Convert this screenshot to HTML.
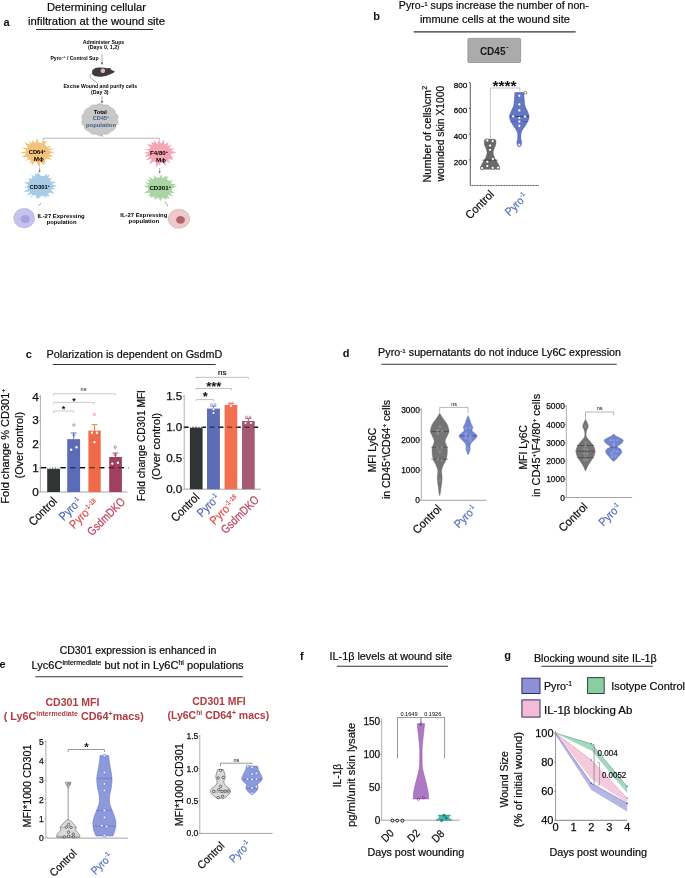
<!DOCTYPE html>
<html><head><meta charset="utf-8"><title>Figure</title>
<style>html,body{margin:0;padding:0;background:#fff;overflow:hidden;}svg{display:block;}
text{font-family:'Liberation Sans', Arial, Helvetica, sans-serif;}</style></head>
<body><svg width="685" height="878" viewBox="0 0 685 878">
<rect width="685" height="878" fill="#fff"/>
<text x="3.40" y="26.30" font-size="11" fill="#111" font-weight="bold">a</text>
<text x="96.50" y="10.50" font-size="10.5" text-anchor="middle" textLength="99.00" lengthAdjust="spacingAndGlyphs" stroke="#222" stroke-width="0.2">Determining cellular</text>
<text x="96.50" y="24.50" font-size="10.5" text-anchor="middle" textLength="137.00" lengthAdjust="spacingAndGlyphs" stroke="#222" stroke-width="0.2">infiltration at the wound site</text>
<line x1="36.00" y1="29.50" x2="153.00" y2="29.50" stroke="#333" stroke-width="1.2" />
<text x="103.50" y="44.00" font-size="4.6" text-anchor="middle" font-weight="bold" textLength="41.50" lengthAdjust="spacingAndGlyphs">Administer  Sups</text>
<text x="103.50" y="49.20" font-size="4.6" text-anchor="middle" font-weight="bold" textLength="31.00" lengthAdjust="spacingAndGlyphs">(Days 0, 1,2)</text>
<text x="74.50" y="59.60" font-size="4.6" text-anchor="middle" font-weight="bold" textLength="48.00" lengthAdjust="spacingAndGlyphs">Pyro⁻¹ / Control Sup</text>
<line x1="102.00" y1="54.00" x2="102.00" y2="64.00" stroke="#555" stroke-width="0.5" />
<path d="M100.8,62.5 L102,65 L103.2,62.5 Z" fill="#555" stroke="none" stroke-width="1" />
<path d="M92,72.2 C92,68.6 96,67.4 101,67.5 C105,67.6 108,68.2 110.2,69.2 L115.2,71.7 C113,72.9 111,73.9 108.6,74.9 C105,76.5 99,77.1 95.6,76.3 C93.2,75.6 92,74.2 92,72.2 Z" fill="#3c3c3c" stroke="none" stroke-width="1" />
<ellipse cx="109.3" cy="69.3" rx="1.6" ry="1.2" fill="#3c3c3c"/>
<ellipse cx="102.8" cy="70.8" rx="2.3" ry="2.4" fill="#e4b4ba"/>
<path d="M92.6,73 C89.6,74.2 89.2,77 91.2,78.6 C93.2,80.2 96.2,81.6 97.8,84.1" fill="none" stroke="#555" stroke-width="0.5" />
<text x="100.20" y="88.20" font-size="4.6" text-anchor="middle" font-weight="bold" textLength="73.60" lengthAdjust="spacingAndGlyphs">Excise Wound and purify cells</text>
<text x="99.80" y="94.00" font-size="4.6" text-anchor="middle" font-weight="bold" textLength="17.60" lengthAdjust="spacingAndGlyphs">(Day 3)</text>
<line x1="102.00" y1="96.00" x2="102.00" y2="102.50" stroke="#555" stroke-width="0.5" />
<path d="M100.9,101 L102,103.5 L103.1,101 Z" fill="#555" stroke="none" stroke-width="1" />
<path d="M117.10,119.60 L117.51,120.39 L117.81,121.22 L117.95,122.06 L117.90,122.89 L117.64,123.69 L117.18,124.43 L116.57,125.11 L115.84,125.71 L115.39,126.39 L115.32,127.26 L115.11,128.10 L114.74,128.88 L114.20,129.57 L113.50,130.14 L112.66,130.58 L111.74,130.91 L110.76,131.14 L110.23,131.83 L109.68,132.56 L109.02,133.19 L108.25,133.70 L107.37,134.05 L106.43,134.23 L105.43,134.25 L104.43,134.15 L103.50,134.18 L102.68,134.68 L101.79,135.08 L100.86,135.35 L99.90,135.44 L98.94,135.35 L98.01,135.08 L97.12,134.68 L96.30,134.18 L95.37,134.15 L94.37,134.25 L93.37,134.23 L92.43,134.05 L91.55,133.70 L90.78,133.19 L90.12,132.56 L89.57,131.83 L89.04,131.14 L88.06,130.91 L87.14,130.58 L86.30,130.14 L85.60,129.57 L85.06,128.88 L84.69,128.10 L84.48,127.26 L84.41,126.39 L83.96,125.71 L83.23,125.11 L82.62,124.43 L82.16,123.69 L81.90,122.89 L81.85,122.06 L81.99,121.22 L82.29,120.39 L82.70,119.60 L82.29,118.81 L81.99,117.98 L81.85,117.14 L81.90,116.31 L82.16,115.51 L82.62,114.77 L83.23,114.09 L83.96,113.49 L84.41,112.81 L84.48,111.94 L84.69,111.10 L85.06,110.32 L85.60,109.63 L86.30,109.06 L87.14,108.62 L88.06,108.29 L89.04,108.06 L89.57,107.37 L90.12,106.64 L90.78,106.01 L91.55,105.50 L92.43,105.15 L93.37,104.97 L94.37,104.95 L95.37,105.05 L96.30,105.02 L97.12,104.52 L98.01,104.12 L98.94,103.85 L99.90,103.76 L100.86,103.85 L101.79,104.12 L102.68,104.52 L103.50,105.02 L104.43,105.05 L105.43,104.95 L106.43,104.97 L107.37,105.15 L108.25,105.50 L109.02,106.01 L109.68,106.64 L110.23,107.37 L110.76,108.06 L111.74,108.29 L112.66,108.62 L113.50,109.06 L114.20,109.63 L114.74,110.32 L115.11,111.10 L115.32,111.94 L115.39,112.81 L115.84,113.49 L116.57,114.09 L117.18,114.77 L117.64,115.51 L117.90,116.31 L117.95,117.14 L117.81,117.98 L117.51,118.81 Z" fill="#c8c8c8" stroke="#a0a0a0" stroke-width="0.5" />
<text x="100.30" y="114.20" font-size="5.8" text-anchor="middle" font-weight="bold" textLength="13.00" lengthAdjust="spacingAndGlyphs">Total</text>
<text x="100.90" y="120.40" font-size="5.8" text-anchor="middle" fill="#3b5f8a" font-weight="bold" textLength="16.40" lengthAdjust="spacingAndGlyphs">CD45<tspan font-size="3.8" dy="-2.2">+</tspan></text>
<text x="101.00" y="126.60" font-size="5.8" text-anchor="middle" fill="#3b5f8a" font-weight="bold" textLength="30.00" lengthAdjust="spacingAndGlyphs">population</text>
<path d="M43.2,140.5 L43.2,138.2 L159.3,138.2 L159.3,140.5" fill="none" stroke="#888" stroke-width="0.6" />
<path d="M100.6,136.8 L102,135 L103.4,136.8" fill="none" stroke="#888" stroke-width="0.5" />
<path d="M53.90,152.50 L53.19,152.73 L52.51,152.94 L51.85,153.13 L51.22,153.31 L50.63,153.47 L50.08,153.61 L49.58,153.75 L49.16,153.88 L48.96,154.03 L49.00,154.21 L49.38,154.45 L49.87,154.72 L50.44,155.01 L51.05,155.34 L51.70,155.69 L52.38,156.07 L53.08,156.48 L53.04,156.72 L52.18,156.73 L51.35,156.72 L50.57,156.71 L49.84,156.69 L49.18,156.67 L48.58,156.66 L48.48,156.82 L48.87,157.17 L49.32,157.56 L49.80,157.99 L50.31,158.45 L50.84,158.95 L51.39,159.47 L51.47,159.79 L50.64,159.64 L49.85,159.48 L49.10,159.32 L48.40,159.16 L47.76,159.01 L47.18,158.87 L46.68,158.78 L46.39,158.80 L46.25,158.93 L46.12,159.06 L45.98,159.18 L45.84,159.31 L45.70,159.43 L45.56,159.55 L45.41,159.67 L45.26,159.78 L45.11,159.90 L44.96,160.01 L44.80,160.12 L44.74,160.32 L44.85,160.73 L45.02,161.21 L45.20,161.74 L45.40,162.33 L45.60,162.95 L45.80,163.61 L45.18,163.21 L44.58,162.79 L44.03,162.40 L44.00,162.76 L44.13,163.41 L44.26,164.10 L44.38,164.83 L44.48,165.59 L44.12,165.51 L43.51,164.94 L42.95,164.39 L42.43,163.85 L41.94,163.34 L41.50,162.87 L41.11,162.45 L40.76,162.10 L40.57,162.17 L40.49,162.59 L40.40,163.08 L40.32,163.63 L40.21,164.21 L40.10,164.83 L39.96,165.49 L39.80,166.16 L39.61,166.87 L39.35,167.17 L38.97,166.51 L38.62,165.87 L38.30,165.25 L38.01,164.66 L37.74,164.09 L37.50,163.56 L37.28,163.08 L37.08,162.65 L36.89,162.33 L36.69,162.28 L36.49,162.26 L36.29,162.25 L36.09,162.23 L35.89,162.20 L35.69,162.18 L35.49,162.15 L35.29,162.12 L35.09,162.09 L34.89,162.05 L34.69,162.01 L34.39,162.28 L33.98,162.82 L33.51,163.46 L32.97,164.17 L32.38,164.94 L31.73,165.74 L31.77,164.98 L31.92,164.07 L32.08,163.22 L32.23,162.46 L32.31,161.88 L31.74,162.43 L31.09,163.06 L30.36,163.75 L29.55,164.47 L29.51,164.07 L29.86,163.16 L30.20,162.31 L30.51,161.56 L30.77,160.92 L30.85,160.53 L30.68,160.43 L30.52,160.33 L30.36,160.22 L30.20,160.12 L30.04,160.01 L29.89,159.90 L29.74,159.78 L29.59,159.67 L29.44,159.55 L29.11,159.58 L28.48,159.84 L27.73,160.16 L26.89,160.51 L25.97,160.89 L25.41,160.98 L26.04,160.28 L26.64,159.63 L27.19,159.04 L27.66,158.53 L27.98,158.13 L27.88,157.98 L27.77,157.84 L27.66,157.69 L27.56,157.55 L27.45,157.40 L27.35,157.25 L27.26,157.10 L27.07,156.99 L26.65,156.97 L26.14,156.96 L25.58,156.96 L24.97,156.97 L24.32,156.97 L23.64,156.96 L22.92,156.94 L22.17,156.91 L22.08,156.69 L22.66,156.30 L23.22,155.93 L23.77,155.59 L24.29,155.27 L24.78,154.97 L25.24,154.70 L25.64,154.44 L25.97,154.22 L26.04,154.03 L26.01,153.86 L25.94,153.70 L25.46,153.57 L24.84,153.43 L24.12,153.29 L23.33,153.12 L22.49,152.94 L21.60,152.73 L20.67,152.50 L21.12,152.26 L22.03,152.05 L22.90,151.86 L23.72,151.69 L24.48,151.54 L25.16,151.41 L25.73,151.28 L26.01,151.14 L26.04,150.97 L26.08,150.80 L26.11,150.63 L26.15,150.46 L26.20,150.30 L26.18,150.12 L25.74,149.84 L25.14,149.52 L24.46,149.15 L23.72,148.75 L22.94,148.30 L22.11,147.82 L22.70,147.75 L23.68,147.82 L24.59,147.90 L25.44,147.98 L26.19,148.06 L26.83,148.11 L27.16,148.05 L27.26,147.90 L27.35,147.75 L27.45,147.60 L27.56,147.45 L27.66,147.31 L27.77,147.16 L27.86,147.01 L27.65,146.68 L27.32,146.27 L26.94,145.81 L26.52,145.30 L26.09,144.75 L25.63,144.17 L25.17,143.55 L24.70,142.89 L24.45,142.36 L25.31,142.68 L26.14,143.00 L26.92,143.33 L27.65,143.64 L28.33,143.95 L28.96,144.24 L29.53,144.50 L30.02,144.71 L29.95,144.36 L29.72,143.81 L29.45,143.19 L29.16,142.52 L28.87,141.79 L28.73,141.21 L29.46,141.73 L30.14,142.23 L30.77,142.70 L31.33,143.13 L31.83,143.50 L31.86,143.18 L31.86,142.77 L31.86,142.34 L31.86,141.87 L31.87,141.39 L31.89,140.88 L31.92,140.35 L32.34,140.63 L32.78,141.00 L33.19,141.35 L33.57,141.70 L33.93,142.02 L34.26,142.33 L34.57,142.60 L34.85,142.82 L35.09,142.91 L35.29,142.88 L35.49,142.85 L35.69,142.82 L35.87,142.71 L36.00,142.22 L36.14,141.59 L36.29,140.88 L36.47,140.10 L36.67,139.27 L36.91,138.40 L37.20,138.16 L37.50,139.03 L37.76,139.87 L37.99,140.65 L38.19,141.37 L38.37,142.02 L38.53,142.55 L38.71,142.75 L38.91,142.77 L39.11,142.80 L39.31,142.82 L39.51,142.85 L39.71,142.88 L39.91,142.91 L40.11,142.95 L40.31,142.99 L40.50,143.03 L40.70,143.08 L40.89,143.13 L41.08,143.18 L41.28,143.23 L41.68,142.81 L42.24,142.11 L42.90,141.29 L43.65,140.38 L44.48,139.42 L44.51,139.95 L44.16,141.07 L43.82,142.08 L43.98,142.27 L44.63,141.73 L45.33,141.15 L46.10,140.56 L46.91,139.94 L46.60,140.80 L46.27,141.63 L45.94,142.40 L45.62,143.12 L45.32,143.77 L45.05,144.35 L44.87,144.82 L44.96,144.99 L45.11,145.10 L45.26,145.22 L45.41,145.33 L45.56,145.45 L45.70,145.57 L45.84,145.69 L45.98,145.82 L46.12,145.94 L46.25,146.07 L46.39,146.20 L46.51,146.33 L46.64,146.47 L46.76,146.60 L46.88,146.74 L47.00,146.88 L47.52,146.80 L48.27,146.62 L49.14,146.39 L50.11,146.15 L51.17,145.90 L51.50,146.01 L50.68,146.63 L49.91,147.19 L49.20,147.70 L48.58,148.14 L48.14,148.50 L48.18,148.67 L48.53,148.74 L49.25,148.70 L50.13,148.64 L51.11,148.57 L52.17,148.51 L53.31,148.46 L54.01,148.55 L52.99,149.03 L52.02,149.47 L51.10,149.86 L50.26,150.22 L49.53,150.53 L48.99,150.79 L49.24,150.93 L49.69,151.06 L50.21,151.19 L50.78,151.33 L51.39,151.48 L52.03,151.65 L52.70,151.83 L53.40,152.04 L54.12,152.26 Z" fill="#f2c27a" stroke="none" stroke-width="0.4" />
<text x="37.20" y="154.20" font-size="6" text-anchor="middle" font-weight="bold" textLength="17.00" lengthAdjust="spacingAndGlyphs">CD64<tspan font-size="3.8" dy="-2.2">+</tspan></text>
<text x="38.70" y="160.60" font-size="6" text-anchor="middle" font-weight="bold" textLength="10.00" lengthAdjust="spacingAndGlyphs">Mϕ</text>
<line x1="39.60" y1="167.50" x2="39.60" y2="171.50" stroke="#555" stroke-width="0.5" />
<path d="M38.6,170.6 L39.6,172.6 L40.6,170.6 Z" fill="#555" stroke="none" stroke-width="1" />
<path d="M56.93,186.00 L56.16,186.23 L55.42,186.44 L54.71,186.63 L54.04,186.81 L53.41,186.97 L52.85,187.12 L52.37,187.27 L52.69,187.48 L53.13,187.72 L53.61,187.98 L54.13,188.26 L54.68,188.55 L55.25,188.87 L54.66,188.99 L54.00,189.08 L53.38,189.16 L52.79,189.24 L52.26,189.31 L51.80,189.39 L51.46,189.49 L51.39,189.66 L51.31,189.82 L51.23,189.99 L51.15,190.15 L51.15,190.34 L51.44,190.64 L51.83,190.99 L52.26,191.37 L52.73,191.79 L53.22,192.24 L53.74,192.72 L54.27,193.22 L54.65,193.68 L53.80,193.55 L52.99,193.41 L52.23,193.27 L51.51,193.12 L50.83,192.99 L50.22,192.86 L49.68,192.76 L49.24,192.71 L49.07,192.83 L48.92,192.96 L48.78,193.09 L48.63,193.21 L48.47,193.34 L48.32,193.46 L48.31,193.70 L48.43,194.07 L48.60,194.48 L48.78,194.94 L48.97,195.43 L49.17,195.95 L49.37,196.50 L49.57,197.07 L49.24,197.11 L48.60,196.79 L48.00,196.47 L47.44,196.17 L46.91,195.88 L46.43,195.61 L45.99,195.37 L45.98,195.73 L46.10,196.30 L46.23,196.95 L46.36,197.64 L46.48,198.38 L45.94,197.97 L45.36,197.42 L44.82,196.91 L44.34,196.44 L43.92,196.04 L43.57,195.76 L43.36,195.80 L43.16,195.85 L42.95,195.90 L42.74,195.94 L42.54,195.98 L42.33,196.01 L42.12,196.05 L41.91,196.07 L41.70,196.10 L41.49,196.12 L41.28,196.14 L41.06,196.16 L40.85,196.18 L40.64,196.22 L40.44,196.41 L40.22,196.66 L40.00,196.94 L39.76,197.24 L39.51,197.56 L39.24,197.90 L38.95,198.25 L38.65,198.61 L38.37,198.65 L38.16,198.25 L37.97,197.86 L37.74,197.71 L37.35,198.29 L36.91,198.91 L36.44,199.55 L36.30,199.01 L36.24,198.30 L36.20,197.63 L36.17,197.00 L36.15,196.44 L36.12,195.95 L36.03,195.64 L35.83,195.58 L35.63,195.52 L35.43,195.46 L35.23,195.39 L35.04,195.32 L34.84,195.24 L34.65,195.17 L34.46,195.09 L34.27,195.01 L34.09,194.92 L33.74,195.04 L33.12,195.48 L32.39,196.01 L31.56,196.61 L30.64,197.24 L30.12,197.41 L30.62,196.50 L31.11,195.67 L31.55,194.92 L31.94,194.28 L32.16,193.81 L31.88,193.80 L31.36,193.97 L30.75,194.20 L30.06,194.46 L29.31,194.74 L28.51,195.03 L27.65,195.33 L26.80,195.59 L27.31,194.94 L27.82,194.32 L28.31,193.75 L28.77,193.21 L29.21,192.72 L29.59,192.28 L29.89,191.91 L29.89,191.70 L29.76,191.56 L29.37,191.54 L28.86,191.56 L28.28,191.60 L27.64,191.64 L26.96,191.68 L26.24,191.72 L25.48,191.76 L24.68,191.78 L23.85,191.80 L23.91,191.51 L24.50,191.07 L25.08,190.66 L25.65,190.27 L26.19,189.90 L26.71,189.56 L27.19,189.24 L27.62,188.95 L27.98,188.69 L28.16,188.47 L28.11,188.29 L28.07,188.12 L27.99,187.95 L27.45,187.84 L26.75,187.74 L25.93,187.63 L25.04,187.50 L24.08,187.36 L23.72,187.16 L24.65,186.88 L25.52,186.62 L26.33,186.39 L27.04,186.19 L27.62,186.00 L27.80,185.82 L27.81,185.64 L27.82,185.47 L27.83,185.29 L27.85,185.11 L27.87,184.93 L27.89,184.76 L27.92,184.58 L27.95,184.40 L27.78,184.20 L27.20,183.94 L26.49,183.63 L25.68,183.29 L24.82,182.91 L23.90,182.50 L24.13,182.31 L25.18,182.30 L26.16,182.31 L27.06,182.32 L27.85,182.33 L28.49,182.31 L28.69,182.18 L28.77,182.01 L28.85,181.85 L28.94,181.69 L29.03,181.53 L29.13,181.37 L29.23,181.21 L29.33,181.05 L29.43,180.90 L29.54,180.75 L29.65,180.59 L29.71,180.42 L29.49,180.10 L29.17,179.71 L28.80,179.29 L28.40,178.82 L27.98,178.33 L27.90,178.01 L28.65,178.19 L29.34,178.37 L29.99,178.54 L30.57,178.69 L31.07,178.80 L31.37,178.79 L31.53,178.66 L31.68,178.54 L31.84,178.42 L32.00,178.30 L32.16,178.19 L32.32,178.07 L32.34,177.82 L32.23,177.43 L32.07,176.98 L31.90,176.48 L31.71,175.93 L31.53,175.36 L31.34,174.75 L31.72,174.79 L32.34,175.17 L32.93,175.53 L33.47,175.87 L33.96,176.19 L34.41,176.47 L34.80,176.68 L35.04,176.68 L35.16,176.48 L35.17,176.07 L35.17,175.58 L35.16,175.05 L35.15,174.46 L35.15,173.84 L35.17,173.19 L35.53,173.34 L36.01,173.86 L36.46,174.36 L36.87,174.82 L37.12,174.81 L37.25,174.37 L37.39,173.89 L37.55,173.40 L37.73,172.89 L37.93,172.35 L38.22,172.28 L38.57,172.76 L38.90,173.23 L39.21,173.68 L39.49,174.12 L39.76,174.53 L40.00,174.92 L40.23,175.27 L40.44,175.58 L40.64,175.81 L40.85,175.82 L41.06,175.84 L41.28,175.86 L41.49,175.88 L41.70,175.90 L41.91,175.93 L42.12,175.95 L42.33,175.99 L42.54,176.02 L42.74,176.06 L42.95,176.10 L43.16,176.15 L43.36,176.20 L43.57,176.25 L43.79,176.25 L44.15,175.96 L44.58,175.58 L45.06,175.14 L45.59,174.67 L46.17,174.16 L46.79,173.63 L47.10,173.67 L46.96,174.38 L46.81,175.06 L46.67,175.68 L46.61,176.15 L47.13,175.84 L47.69,175.52 L48.29,175.18 L48.93,174.83 L49.61,174.48 L49.51,174.98 L49.30,175.57 L49.09,176.14 L48.87,176.67 L48.67,177.16 L48.48,177.62 L48.32,178.03 L48.22,178.37 L48.59,178.33 L49.10,178.19 L49.66,178.02 L50.29,177.83 L50.96,177.64 L51.67,177.44 L52.07,177.47 L51.68,177.99 L51.31,178.48 L50.96,178.94 L50.62,179.37 L50.33,179.75 L50.11,180.09 L50.11,180.30 L50.23,180.44 L50.35,180.59 L50.46,180.75 L50.57,180.90 L50.67,181.05 L50.77,181.21 L50.87,181.37 L50.97,181.53 L51.13,181.66 L51.65,181.69 L52.30,181.68 L53.03,181.66 L53.83,181.65 L54.69,181.64 L55.61,181.64 L56.56,181.65 L56.05,182.02 L55.29,182.43 L54.55,182.81 L53.86,183.16 L53.22,183.48 L52.65,183.77 L52.18,184.02 L52.01,184.23 L52.05,184.40 L52.23,184.57 L52.68,184.71 L53.22,184.85 L53.83,185.00 L54.49,185.17 L55.19,185.35 L55.93,185.55 L56.69,185.76 Z" fill="#a8cce8" stroke="none" stroke-width="0.4" />
<text x="39.80" y="188.80" font-size="6" text-anchor="middle" font-weight="bold" textLength="20.40" lengthAdjust="spacingAndGlyphs">CD301<tspan font-size="3.8" dy="-2.2">+</tspan></text>
<line x1="41.00" y1="203.00" x2="38.50" y2="206.00" stroke="#555" stroke-width="0.5" />
<path d="M34.30,218.10 L34.52,218.60 L34.65,219.12 L34.67,219.64 L34.55,220.15 L34.30,220.62 L33.95,221.05 L33.70,221.50 L33.70,222.04 L33.60,222.56 L33.38,223.03 L33.05,223.45 L32.61,223.79 L32.11,224.06 L31.82,224.49 L31.59,224.98 L31.28,225.42 L30.87,225.77 L30.38,226.01 L29.83,226.16 L29.25,226.24 L28.89,226.67 L28.47,227.03 L28.00,227.31 L27.47,227.47 L26.91,227.50 L26.33,227.44 L25.79,227.46 L25.29,227.72 L24.75,227.91 L24.20,227.97 L23.65,227.91 L23.11,227.72 L22.61,227.46 L22.07,227.44 L21.49,227.50 L20.93,227.47 L20.40,227.31 L19.93,227.03 L19.51,226.67 L19.15,226.24 L18.57,226.16 L18.02,226.01 L17.53,225.77 L17.12,225.42 L16.81,224.98 L16.58,224.49 L16.29,224.06 L15.79,223.79 L15.35,223.45 L15.02,223.03 L14.80,222.56 L14.70,222.04 L14.70,221.50 L14.45,221.05 L14.10,220.62 L13.85,220.15 L13.73,219.64 L13.75,219.12 L13.88,218.60 L14.10,218.10 L13.88,217.60 L13.75,217.08 L13.73,216.56 L13.85,216.05 L14.10,215.58 L14.45,215.15 L14.70,214.70 L14.70,214.16 L14.80,213.64 L15.02,213.16 L15.35,212.75 L15.79,212.41 L16.29,212.14 L16.58,211.71 L16.81,211.22 L17.12,210.78 L17.53,210.43 L18.02,210.19 L18.57,210.04 L19.15,209.96 L19.51,209.53 L19.93,209.17 L20.40,208.89 L20.93,208.73 L21.49,208.70 L22.07,208.76 L22.61,208.74 L23.11,208.48 L23.65,208.29 L24.20,208.23 L24.75,208.29 L25.29,208.48 L25.79,208.74 L26.33,208.76 L26.91,208.70 L27.47,208.73 L28.00,208.89 L28.47,209.17 L28.89,209.53 L29.25,209.96 L29.83,210.04 L30.38,210.19 L30.87,210.43 L31.28,210.78 L31.59,211.22 L31.82,211.71 L32.11,212.14 L32.61,212.41 L33.05,212.75 L33.38,213.16 L33.60,213.64 L33.70,214.16 L33.70,214.70 L33.95,215.15 L34.30,215.58 L34.55,216.05 L34.67,216.56 L34.65,217.08 L34.52,217.60 Z" fill="#c6c2ec" stroke="#a9a3d6" stroke-width="0.5" />
<ellipse cx="25.3" cy="219.1" rx="4.6" ry="4.1" fill="#a9a2e2"/>
<text x="37.40" y="218.20" font-size="6" font-weight="bold" textLength="47.30" lengthAdjust="spacingAndGlyphs">IL-27 Expressing</text>
<text x="61.60" y="224.30" font-size="6" text-anchor="middle" font-weight="bold" textLength="29.80" lengthAdjust="spacingAndGlyphs">population</text>
<path d="M174.03,153.00 L173.31,153.20 L172.64,153.38 L172.03,153.55 L171.51,153.70 L171.16,153.85 L171.14,154.02 L171.12,154.19 L171.09,154.36 L171.06,154.53 L171.03,154.70 L170.99,154.87 L170.96,155.04 L170.91,155.20 L170.87,155.37 L170.82,155.54 L170.77,155.70 L170.84,155.90 L171.25,156.19 L171.77,156.53 L172.36,156.90 L173.00,157.32 L173.68,157.77 L174.06,158.14 L173.18,158.07 L172.34,157.99 L171.57,157.90 L171.60,158.13 L171.99,158.52 L172.40,158.94 L172.82,159.39 L173.24,159.85 L172.71,159.85 L172.04,159.76 L171.40,159.66 L170.80,159.56 L170.23,159.46 L169.71,159.37 L169.23,159.29 L168.82,159.25 L168.58,159.30 L168.45,159.43 L168.32,159.56 L168.25,159.73 L168.52,160.18 L168.90,160.74 L169.33,161.37 L169.79,162.07 L170.27,162.83 L170.65,163.53 L169.76,163.02 L168.93,162.54 L168.18,162.07 L167.49,161.65 L166.90,161.29 L166.44,161.04 L166.26,161.12 L166.10,161.22 L165.94,161.31 L165.77,161.40 L165.60,161.49 L165.53,161.72 L165.54,162.09 L165.57,162.51 L165.61,162.98 L165.64,163.49 L165.68,164.03 L165.70,164.60 L165.71,165.19 L165.71,165.80 L165.30,165.54 L164.83,165.09 L164.38,164.66 L163.96,164.24 L163.58,163.83 L163.22,163.46 L162.89,163.11 L162.59,162.82 L162.33,162.60 L162.14,162.62 L161.94,162.65 L161.75,162.68 L161.56,162.70 L161.36,162.73 L161.17,162.75 L160.98,162.76 L160.80,163.04 L160.63,163.45 L160.44,163.94 L160.23,164.47 L160.00,165.04 L159.74,165.64 L159.49,165.62 L159.27,165.01 L159.08,164.43 L158.90,163.89 L158.75,163.40 L158.48,163.77 L158.17,164.28 L157.84,164.82 L157.47,165.39 L157.07,165.99 L156.63,166.62 L156.16,167.25 L156.02,166.70 L155.96,165.97 L155.92,165.27 L155.90,164.61 L155.89,163.98 L155.88,163.40 L155.88,162.87 L155.86,162.41 L155.80,162.09 L155.62,162.02 L155.44,161.95 L155.27,161.88 L155.09,161.81 L154.92,161.73 L154.74,161.65 L154.57,161.57 L154.40,161.49 L154.23,161.40 L154.02,161.37 L153.61,161.58 L153.13,161.87 L152.59,162.19 L151.99,162.55 L151.35,162.92 L150.66,163.31 L149.93,163.70 L149.15,164.10 L149.26,163.61 L149.62,162.93 L149.97,162.28 L150.32,161.67 L150.66,161.10 L150.98,160.58 L151.26,160.10 L151.49,159.69 L151.55,159.43 L151.42,159.30 L151.30,159.17 L151.17,159.03 L151.06,158.90 L150.89,158.79 L150.29,158.93 L149.52,159.14 L148.64,159.39 L147.66,159.66 L146.60,159.93 L145.48,160.20 L145.98,159.68 L146.82,159.05 L147.62,158.46 L148.36,157.93 L149.02,157.46 L149.55,157.06 L149.69,156.83 L149.62,156.67 L149.34,156.58 L148.87,156.53 L148.32,156.50 L147.71,156.47 L147.06,156.43 L146.36,156.38 L145.63,156.32 L144.86,156.25 L144.35,156.11 L145.01,155.75 L145.65,155.41 L146.27,155.09 L146.86,154.80 L147.42,154.54 L147.94,154.29 L148.39,154.07 L148.47,153.88 L147.87,153.74 L147.18,153.58 L146.42,153.41 L145.60,153.22 L144.74,153.00 L144.05,152.76 L144.95,152.55 L145.82,152.36 L146.63,152.19 L147.38,152.04 L148.06,151.91 L148.62,151.78 L148.91,151.64 L148.94,151.47 L148.97,151.30 L149.01,151.13 L148.75,150.91 L148.17,150.62 L147.47,150.29 L146.68,149.91 L145.84,149.50 L144.95,149.04 L145.93,149.05 L146.90,149.10 L147.81,149.15 L148.62,149.19 L149.30,149.22 L149.69,149.17 L149.77,149.01 L149.85,148.86 L149.93,148.70 L150.02,148.55 L150.11,148.40 L150.20,148.25 L150.30,148.10 L150.36,147.93 L150.17,147.63 L149.88,147.27 L149.56,146.87 L149.20,146.44 L148.82,145.97 L148.43,145.47 L148.03,144.94 L147.62,144.38 L147.22,143.79 L147.53,143.69 L148.28,143.92 L149.00,144.15 L149.68,144.39 L150.32,144.62 L150.93,144.85 L151.49,145.06 L152.00,145.25 L152.45,145.41 L152.32,145.02 L152.14,144.56 L151.94,144.05 L151.74,143.51 L151.53,142.92 L151.32,142.31 L151.11,141.67 L151.24,141.40 L151.88,141.80 L152.48,142.20 L153.05,142.58 L153.58,142.95 L154.07,143.30 L154.04,142.85 L153.89,142.16 L153.74,141.42 L153.60,140.63 L153.49,139.83 L154.12,140.47 L154.71,141.10 L155.24,141.69 L155.74,142.26 L156.18,142.77 L156.57,143.22 L156.90,143.55 L157.10,143.53 L157.29,143.49 L157.48,143.45 L157.67,143.41 L157.80,143.13 L157.92,142.73 L158.05,142.27 L158.18,141.76 L158.33,141.22 L158.50,140.64 L158.69,140.04 L158.94,139.96 L159.24,140.53 L159.52,141.08 L159.77,141.60 L160.00,142.09 L160.21,142.53 L160.40,142.92 L160.59,143.20 L160.78,143.22 L160.98,143.24 L161.17,143.25 L161.37,143.21 L161.63,142.91 L161.91,142.51 L162.22,142.06 L162.56,141.56 L162.94,141.04 L163.35,140.49 L163.79,139.93 L164.10,139.85 L164.15,140.53 L164.18,141.19 L164.20,141.81 L164.21,142.39 L164.21,142.92 L164.22,143.40 L164.25,143.80 L164.38,143.98 L164.56,144.05 L164.73,144.12 L164.91,144.19 L165.08,144.27 L165.37,144.17 L165.76,143.94 L166.19,143.67 L166.67,143.36 L167.19,143.03 L167.74,142.69 L168.34,142.34 L168.60,142.40 L168.41,143.00 L168.21,143.56 L168.02,144.09 L167.84,144.58 L167.67,145.03 L167.54,145.42 L167.49,145.72 L167.64,145.83 L167.78,145.95 L168.11,145.91 L168.67,145.71 L169.32,145.45 L170.04,145.17 L170.83,144.87 L171.67,144.56 L171.65,144.87 L171.12,145.49 L170.61,146.06 L170.14,146.59 L169.73,147.06 L169.41,147.45 L169.39,147.66 L169.50,147.81 L169.60,147.95 L169.70,148.10 L169.80,148.25 L169.89,148.40 L170.20,148.46 L170.63,148.48 L171.12,148.49 L171.66,148.49 L172.23,148.50 L172.84,148.51 L173.48,148.53 L174.15,148.56 L173.84,148.88 L173.35,149.25 L172.88,149.59 L172.43,149.91 L172.00,150.20 L171.61,150.48 L171.27,150.73 L171.01,150.95 L171.17,151.10 L171.66,151.21 L172.26,151.31 L172.93,151.42 L173.65,151.55 L174.43,151.69 L175.24,151.85 L176.08,152.03 L176.41,152.26 L175.59,152.53 L174.79,152.78 Z" fill="#f5a5b3" stroke="none" stroke-width="0.4" />
<text x="159.00" y="155.40" font-size="6" text-anchor="middle" font-weight="bold" textLength="18.00" lengthAdjust="spacingAndGlyphs">F4/80<tspan font-size="3.8" dy="-2.2">+</tspan></text>
<text x="161.00" y="161.60" font-size="6" text-anchor="middle" font-weight="bold" textLength="10.00" lengthAdjust="spacingAndGlyphs">Mϕ</text>
<line x1="159.70" y1="168.00" x2="159.70" y2="172.50" stroke="#555" stroke-width="0.5" />
<path d="M158.7,171.6 L159.7,173.6 L160.7,171.6 Z" fill="#555" stroke="none" stroke-width="1" />
<path d="M173.43,187.70 L172.88,187.89 L172.41,188.06 L172.18,188.23 L172.17,188.41 L172.15,188.59 L172.13,188.77 L172.11,188.94 L172.08,189.12 L172.05,189.30 L172.01,189.47 L171.98,189.65 L171.93,189.82 L171.89,189.99 L171.84,190.17 L171.78,190.34 L171.73,190.51 L171.67,190.68 L171.68,190.87 L172.03,191.16 L172.50,191.49 L173.03,191.85 L173.60,192.26 L174.22,192.69 L174.86,193.16 L174.08,193.13 L173.26,193.06 L172.50,192.99 L171.80,192.92 L171.18,192.87 L170.67,192.85 L170.46,192.95 L170.35,193.11 L170.32,193.30 L170.64,193.69 L171.07,194.15 L171.56,194.67 L172.08,195.24 L172.64,195.85 L173.21,196.51 L172.60,196.42 L171.71,196.12 L170.89,195.82 L170.12,195.54 L169.44,195.29 L168.85,195.09 L168.47,195.04 L168.32,195.16 L168.18,195.29 L168.21,195.59 L168.30,195.95 L168.42,196.35 L168.55,196.79 L168.69,197.26 L168.82,197.76 L168.96,198.28 L169.09,198.82 L168.88,198.98 L168.30,198.68 L167.75,198.38 L167.24,198.09 L166.75,197.82 L166.46,197.80 L166.46,198.22 L166.45,198.67 L166.44,199.13 L166.42,199.61 L166.27,199.91 L165.81,199.59 L165.37,199.28 L164.95,198.98 L164.56,198.69 L164.19,198.41 L163.84,198.16 L163.51,197.92 L163.21,197.72 L162.95,197.60 L162.74,197.64 L162.54,197.68 L162.33,197.71 L162.15,197.88 L161.99,198.17 L161.82,198.51 L161.65,198.89 L161.47,199.29 L161.27,199.72 L161.05,200.17 L160.82,200.63 L160.57,201.11 L160.27,200.69 L160.00,200.24 L159.75,199.80 L159.51,199.39 L159.29,198.99 L159.08,198.62 L158.89,198.29 L158.70,198.00 L158.51,197.82 L158.30,197.80 L158.09,197.77 L157.88,197.75 L157.67,197.71 L157.46,197.68 L157.21,197.81 L156.90,198.07 L156.57,198.37 L156.20,198.70 L155.81,199.06 L155.40,199.44 L154.95,199.83 L154.56,200.05 L154.53,199.50 L154.50,198.98 L154.49,198.48 L154.48,198.01 L154.47,197.58 L154.45,197.19 L154.41,196.86 L154.27,196.71 L154.09,196.62 L153.90,196.53 L153.61,196.59 L153.23,196.74 L152.81,196.92 L152.35,197.12 L151.86,197.35 L151.34,197.58 L150.79,197.81 L150.21,198.05 L150.18,197.73 L150.34,197.23 L150.51,196.75 L150.68,196.30 L150.84,195.88 L150.98,195.48 L150.70,195.45 L149.99,195.73 L149.21,196.04 L148.35,196.37 L147.71,196.52 L148.26,195.85 L148.78,195.24 L149.27,194.67 L149.69,194.18 L150.02,193.76 L150.01,193.55 L149.89,193.40 L149.77,193.26 L149.65,193.11 L149.54,192.95 L149.43,192.80 L149.31,192.65 L148.78,192.68 L148.07,192.76 L147.26,192.86 L146.37,192.96 L145.40,193.07 L144.38,193.16 L143.42,193.21 L144.28,192.67 L145.10,192.18 L145.89,191.72 L146.62,191.31 L147.29,190.94 L147.86,190.61 L148.22,190.34 L148.16,190.17 L148.11,189.99 L148.07,189.82 L148.02,189.65 L147.99,189.47 L147.95,189.30 L147.92,189.12 L147.89,188.94 L147.87,188.77 L147.85,188.59 L147.83,188.41 L147.82,188.23 L147.81,188.06 L147.77,187.88 L147.42,187.70 L146.96,187.51 L146.43,187.31 L145.86,187.08 L145.25,186.85 L144.60,186.59 L143.93,186.31 L143.61,186.04 L144.36,185.88 L145.08,185.74 L145.76,185.62 L146.40,185.50 L147.00,185.40 L147.53,185.30 L147.99,185.20 L148.22,185.06 L148.27,184.89 L148.33,184.72 L148.15,184.48 L147.56,184.13 L146.83,183.72 L146.02,183.26 L145.15,182.75 L144.23,182.19 L145.12,182.23 L146.20,182.38 L147.20,182.52 L148.10,182.65 L148.86,182.76 L149.33,182.75 L149.43,182.60 L149.54,182.45 L149.35,182.14 L148.91,181.70 L148.37,181.19 L147.78,180.61 L147.15,179.99 L146.49,179.31 L147.12,179.40 L148.08,179.71 L148.95,180.01 L149.75,180.29 L150.46,180.54 L150.32,180.18 L149.98,179.66 L149.61,179.09 L149.22,178.47 L148.82,177.81 L148.42,177.11 L148.74,177.03 L149.55,177.42 L150.31,177.81 L151.02,178.18 L151.68,178.52 L152.27,178.84 L152.79,179.11 L153.18,179.24 L153.36,179.15 L153.53,179.05 L153.72,178.96 L153.90,178.87 L154.09,178.78 L154.21,178.60 L154.16,178.15 L154.07,177.59 L153.97,176.96 L153.86,176.28 L153.75,175.54 L153.81,175.06 L154.40,175.65 L154.95,176.21 L155.46,176.74 L155.91,177.22 L156.31,177.63 L156.64,177.90 L156.84,177.85 L157.05,177.80 L157.26,177.76 L157.46,177.72 L157.67,177.69 L157.88,177.65 L158.09,177.63 L158.30,177.60 L158.51,177.58 L158.72,177.56 L158.94,177.54 L159.15,177.52 L159.36,177.51 L159.57,177.51 L159.78,177.32 L160.00,176.81 L160.24,176.19 L160.51,175.49 L160.82,174.74 L161.17,173.94 L161.39,174.61 L161.56,175.40 L161.71,176.14 L161.84,176.80 L161.96,177.35 L162.12,177.65 L162.33,177.69 L162.54,177.72 L162.74,177.76 L162.95,177.80 L163.16,177.85 L163.37,177.88 L163.67,177.67 L164.03,177.36 L164.43,177.00 L164.87,176.60 L165.34,176.18 L165.85,175.73 L166.03,175.95 L165.99,176.55 L165.95,177.11 L166.01,177.45 L166.65,176.88 L167.37,176.25 L168.15,175.59 L168.41,175.69 L168.09,176.57 L167.78,177.39 L167.48,178.13 L167.22,178.78 L167.04,179.29 L167.17,179.45 L167.34,179.55 L167.51,179.66 L167.68,179.77 L167.84,179.89 L168.00,180.00 L168.16,180.12 L168.32,180.24 L168.47,180.36 L168.63,180.49 L168.78,180.61 L168.92,180.74 L169.27,180.73 L169.72,180.65 L170.23,180.56 L170.78,180.44 L171.38,180.33 L172.01,180.21 L172.67,180.09 L172.68,180.36 L172.32,180.82 L171.97,181.25 L171.63,181.66 L171.32,182.03 L171.05,182.38 L170.83,182.69 L170.77,182.91 L170.87,183.07 L170.97,183.23 L171.06,183.39 L171.15,183.55 L171.23,183.71 L171.52,183.81 L172.06,183.84 L172.69,183.86 L173.40,183.87 L174.16,183.89 L174.97,183.92 L175.82,183.96 L175.98,184.17 L175.26,184.55 L174.58,184.91 L173.93,185.24 L173.32,185.55 L173.72,185.69 L174.41,185.81 L175.15,185.94 L175.93,186.09 L176.74,186.25 L176.92,186.48 L176.15,186.77 L175.42,187.03 L174.71,187.27 L174.05,187.50 Z" fill="#a9d5a3" stroke="none" stroke-width="0.4" />
<text x="160.20" y="190.00" font-size="6" text-anchor="middle" font-weight="bold" textLength="21.60" lengthAdjust="spacingAndGlyphs">CD301<tspan font-size="3.8" dy="-2.2">+</tspan></text>
<line x1="165.00" y1="201.60" x2="167.80" y2="206.00" stroke="#555" stroke-width="0.5" />
<path d="M189.20,218.80 L189.42,219.29 L189.56,219.79 L189.58,220.29 L189.45,220.78 L189.20,221.24 L188.85,221.66 L188.59,222.09 L188.59,222.61 L188.49,223.12 L188.27,223.58 L187.92,223.98 L187.48,224.31 L186.97,224.57 L186.67,224.98 L186.44,225.46 L186.12,225.88 L185.70,226.22 L185.20,226.46 L184.64,226.61 L184.05,226.68 L183.68,227.09 L183.26,227.45 L182.77,227.72 L182.23,227.87 L181.66,227.90 L181.07,227.84 L180.52,227.86 L180.01,228.12 L179.46,228.29 L178.90,228.36 L178.34,228.29 L177.79,228.12 L177.28,227.86 L176.73,227.84 L176.14,227.90 L175.57,227.87 L175.03,227.72 L174.54,227.45 L174.12,227.09 L173.75,226.68 L173.16,226.61 L172.60,226.46 L172.10,226.22 L171.68,225.88 L171.36,225.46 L171.13,224.98 L170.83,224.57 L170.32,224.31 L169.88,223.98 L169.53,223.58 L169.31,223.12 L169.21,222.61 L169.21,222.09 L168.95,221.66 L168.60,221.24 L168.35,220.78 L168.22,220.29 L168.24,219.79 L168.38,219.29 L168.60,218.80 L168.38,218.31 L168.24,217.81 L168.22,217.31 L168.35,216.82 L168.60,216.36 L168.95,215.94 L169.21,215.51 L169.21,214.99 L169.31,214.48 L169.53,214.02 L169.88,213.62 L170.32,213.29 L170.83,213.03 L171.13,212.62 L171.36,212.14 L171.68,211.72 L172.10,211.38 L172.60,211.14 L173.16,210.99 L173.75,210.92 L174.12,210.51 L174.54,210.15 L175.03,209.88 L175.57,209.73 L176.14,209.70 L176.73,209.76 L177.28,209.74 L177.79,209.48 L178.34,209.31 L178.90,209.25 L179.46,209.31 L180.01,209.48 L180.52,209.74 L181.07,209.76 L181.66,209.70 L182.23,209.73 L182.77,209.88 L183.26,210.15 L183.68,210.51 L184.05,210.92 L184.64,210.99 L185.20,211.14 L185.70,211.38 L186.12,211.72 L186.44,212.14 L186.67,212.62 L186.97,213.03 L187.48,213.29 L187.92,213.62 L188.27,214.02 L188.49,214.48 L188.59,214.99 L188.59,215.51 L188.85,215.94 L189.20,216.36 L189.45,216.82 L189.58,217.31 L189.56,217.81 L189.42,218.31 Z" fill="#eccaca" stroke="#b89494" stroke-width="0.5" />
<ellipse cx="180.5" cy="219.9" rx="4.4" ry="3.9" fill="#b2646c"/>
<text x="143.80" y="217.20" font-size="6" text-anchor="middle" font-weight="bold" textLength="47.00" lengthAdjust="spacingAndGlyphs">IL-27 Expressing</text>
<text x="143.80" y="223.00" font-size="6" text-anchor="middle" font-weight="bold" textLength="30.60" lengthAdjust="spacingAndGlyphs">population</text>
<text x="373.20" y="20.00" font-size="11" fill="#111" font-weight="bold">b</text>
<text x="493.80" y="9.20" font-size="10.2" text-anchor="middle" textLength="190.00" lengthAdjust="spacingAndGlyphs" stroke="#222" stroke-width="0.2">Pyro-<tspan font-size="6" dy="-3">1</tspan><tspan dy="3"> sups increase the number of non-</tspan></text>
<text x="494.90" y="22.80" font-size="10.2" text-anchor="middle" textLength="150.00" lengthAdjust="spacingAndGlyphs" stroke="#222" stroke-width="0.2">immune cells at the wound site</text>
<line x1="413.70" y1="31.90" x2="575.60" y2="31.90" stroke="#333" stroke-width="1.1" />
<rect x="467.90" y="38.40" width="52.70" height="24.10" fill="#acaaaa" stroke="#8e8e8e" stroke-width="0.8" rx="1"/>
<text x="479.90" y="54.60" font-size="11" fill="#1a1a1a" font-weight="bold" textLength="25.60" lengthAdjust="spacingAndGlyphs">CD45</text>
<text x="506.30" y="49.20" font-size="6.5" fill="#1a1a1a" font-weight="bold">-</text>
<line x1="470.30" y1="82.80" x2="470.30" y2="185.50" stroke="#333" stroke-width="0.8" />
<line x1="468.90" y1="82.64" x2="470.30" y2="82.64" stroke="#333" stroke-width="0.8" />
<text x="467.20" y="87.64" font-size="8.1" text-anchor="end" stroke="#222" stroke-width="0.3">800</text>
<line x1="468.90" y1="108.38" x2="470.30" y2="108.38" stroke="#333" stroke-width="0.8" />
<text x="467.20" y="113.38" font-size="8.1" text-anchor="end" stroke="#222" stroke-width="0.3">600</text>
<line x1="468.90" y1="134.12" x2="470.30" y2="134.12" stroke="#333" stroke-width="0.8" />
<text x="467.20" y="139.12" font-size="8.1" text-anchor="end" stroke="#222" stroke-width="0.3">400</text>
<line x1="468.90" y1="159.86" x2="470.30" y2="159.86" stroke="#333" stroke-width="0.8" />
<text x="467.20" y="164.86" font-size="8.1" text-anchor="end" stroke="#222" stroke-width="0.3">200</text>
<line x1="470.50" y1="185.50" x2="539.00" y2="185.50" stroke="#333" stroke-width="0.9" stroke-dasharray="1 0.6"/>
<text x="431.50" y="134.20" font-size="10" text-anchor="middle" textLength="96.50" lengthAdjust="spacingAndGlyphs" transform="rotate(-90 431.50 134.20)" stroke="#222" stroke-width="0.2">Number of cells\cm<tspan font-size="6.5" dy="-4.5">2</tspan></text>
<text x="444.40" y="133.60" font-size="10" text-anchor="middle" textLength="95.80" lengthAdjust="spacingAndGlyphs" transform="rotate(-90 444.40 133.60)" stroke="#222" stroke-width="0.2">wounded skin X1000</text>
<path d="M490.4,138.5 L490.4,88 L519.9,88 L519.9,91.5" fill="none" stroke="#999" stroke-width="0.6" />
<text x="504.50" y="91.20" font-size="15.5" text-anchor="middle" fill="#111" font-weight="bold">****</text>
<path d="M493.90,139.20 L494.06,139.26 L494.29,139.34 L494.56,139.43 L494.84,139.54 L495.10,139.66 L495.30,139.80 L495.46,139.92 L495.59,140.03 L495.70,140.14 L495.79,140.31 L495.86,140.55 L495.90,140.90 L495.93,141.39 L495.94,142.01 L495.93,142.70 L495.89,143.43 L495.81,144.14 L495.70,144.80 L495.53,145.40 L495.31,145.98 L495.06,146.55 L494.79,147.12 L494.53,147.70 L494.30,148.30 L494.08,148.93 L493.85,149.59 L493.62,150.26 L493.43,150.92 L493.28,151.57 L493.20,152.20 L493.19,152.79 L493.24,153.37 L493.34,153.92 L493.47,154.48 L493.63,155.03 L493.80,155.60 L493.99,156.18 L494.21,156.76 L494.45,157.34 L494.71,157.93 L495.00,158.52 L495.30,159.10 L495.63,159.68 L496.00,160.27 L496.39,160.86 L496.78,161.44 L497.15,162.02 L497.50,162.60 L497.83,163.18 L498.15,163.77 L498.46,164.36 L498.74,164.93 L498.99,165.48 L499.20,166.00 L499.36,166.50 L499.47,167.00 L499.56,167.47 L499.61,167.90 L499.66,168.29 L499.70,168.60 L499.73,168.83 L499.74,169.00 L499.73,169.11 L499.72,169.19 L499.71,169.25 L499.70,169.30 L480.50,169.30 L480.49,169.25 L480.48,169.19 L480.47,169.11 L480.46,169.00 L480.47,168.83 L480.50,168.60 L480.54,168.29 L480.59,167.90 L480.64,167.47 L480.73,167.00 L480.84,166.50 L481.00,166.00 L481.21,165.48 L481.46,164.93 L481.74,164.36 L482.05,163.77 L482.37,163.18 L482.70,162.60 L483.05,162.02 L483.42,161.44 L483.81,160.86 L484.20,160.27 L484.57,159.68 L484.90,159.10 L485.20,158.52 L485.49,157.93 L485.75,157.34 L485.99,156.76 L486.21,156.18 L486.40,155.60 L486.57,155.03 L486.73,154.48 L486.86,153.92 L486.96,153.37 L487.01,152.79 L487.00,152.20 L486.92,151.57 L486.77,150.92 L486.58,150.26 L486.35,149.59 L486.12,148.93 L485.90,148.30 L485.67,147.70 L485.41,147.12 L485.14,146.55 L484.89,145.98 L484.67,145.40 L484.50,144.80 L484.39,144.14 L484.31,143.43 L484.28,142.70 L484.26,142.01 L484.27,141.39 L484.30,140.90 L484.34,140.55 L484.41,140.31 L484.50,140.14 L484.61,140.03 L484.74,139.92 L484.90,139.80 L485.10,139.66 L485.36,139.54 L485.64,139.43 L485.91,139.34 L486.14,139.26 L486.30,139.20 Z" fill="#6a6a6a" stroke="#5a5a5a" stroke-width="0.4" stroke-linejoin="round"/>
<line x1="482.50" y1="160.20" x2="497.60" y2="160.20" stroke="#2a2a2a" stroke-width="0.7" />
<circle cx="487.30" cy="140.50" r="1.55" fill="#fff" stroke="#333" stroke-width="0.55" />
<circle cx="492.70" cy="141.10" r="1.55" fill="#fff" stroke="#333" stroke-width="0.55" />
<circle cx="490.10" cy="145.50" r="1.55" fill="#fff" stroke="#333" stroke-width="0.55" />
<circle cx="490.10" cy="149.80" r="1.55" fill="#fff" stroke="#333" stroke-width="0.55" />
<circle cx="492.90" cy="158.90" r="1.55" fill="#fff" stroke="#333" stroke-width="0.55" />
<circle cx="487.30" cy="161.70" r="1.55" fill="#fff" stroke="#333" stroke-width="0.55" />
<circle cx="487.30" cy="166.00" r="1.55" fill="#fff" stroke="#333" stroke-width="0.55" />
<circle cx="482.10" cy="168.00" r="1.55" fill="#fff" stroke="#333" stroke-width="0.55" />
<circle cx="492.70" cy="167.80" r="1.55" fill="#fff" stroke="#333" stroke-width="0.55" />
<circle cx="498.10" cy="167.50" r="1.55" fill="#fff" stroke="#333" stroke-width="0.55" />
<path d="M523.70,92.60 L523.74,93.24 L523.79,94.12 L523.85,95.16 L523.92,96.30 L524.01,97.47 L524.10,98.60 L524.19,99.73 L524.29,100.93 L524.39,102.16 L524.51,103.38 L524.68,104.54 L524.90,105.60 L525.19,106.57 L525.56,107.47 L525.96,108.32 L526.37,109.12 L526.76,109.88 L527.10,110.60 L527.39,111.28 L527.66,111.90 L527.91,112.49 L528.13,113.04 L528.33,113.57 L528.50,114.10 L528.65,114.61 L528.77,115.09 L528.87,115.54 L528.94,115.99 L528.98,116.44 L529.00,116.90 L528.99,117.36 L528.96,117.80 L528.89,118.25 L528.80,118.71 L528.67,119.19 L528.50,119.70 L528.28,120.25 L528.03,120.82 L527.73,121.41 L527.41,122.03 L527.06,122.66 L526.70,123.30 L526.31,123.97 L525.88,124.68 L525.43,125.41 L524.97,126.13 L524.53,126.83 L524.10,127.50 L523.68,128.12 L523.26,128.72 L522.84,129.29 L522.45,129.86 L522.10,130.42 L521.80,131.00 L521.56,131.57 L521.36,132.14 L521.21,132.70 L521.08,133.27 L520.98,133.87 L520.90,134.50 L520.84,135.18 L520.81,135.90 L520.80,136.65 L520.81,137.40 L520.85,138.12 L520.90,138.80 L520.99,139.44 L521.12,140.05 L521.27,140.64 L521.42,141.21 L521.54,141.77 L521.60,142.30 L521.60,142.82 L521.57,143.34 L521.50,143.83 L521.41,144.30 L521.31,144.72 L521.20,145.10 L521.07,145.43 L520.90,145.72 L520.72,145.97 L520.55,146.19 L520.40,146.36 L520.30,146.50 L518.30,146.50 L518.20,146.36 L518.05,146.19 L517.88,145.97 L517.70,145.72 L517.53,145.43 L517.40,145.10 L517.29,144.72 L517.19,144.30 L517.10,143.83 L517.03,143.34 L517.00,142.82 L517.00,142.30 L517.06,141.77 L517.18,141.21 L517.32,140.64 L517.48,140.05 L517.61,139.44 L517.70,138.80 L517.75,138.12 L517.79,137.40 L517.80,136.65 L517.79,135.90 L517.76,135.18 L517.70,134.50 L517.62,133.87 L517.52,133.27 L517.39,132.70 L517.24,132.14 L517.04,131.57 L516.80,131.00 L516.50,130.42 L516.15,129.86 L515.76,129.29 L515.34,128.72 L514.92,128.12 L514.50,127.50 L514.07,126.83 L513.63,126.13 L513.17,125.41 L512.72,124.68 L512.29,123.97 L511.90,123.30 L511.54,122.66 L511.19,122.03 L510.87,121.41 L510.57,120.82 L510.32,120.25 L510.10,119.70 L509.93,119.19 L509.80,118.71 L509.71,118.25 L509.64,117.80 L509.61,117.36 L509.60,116.90 L509.62,116.44 L509.66,115.99 L509.73,115.54 L509.83,115.09 L509.95,114.61 L510.10,114.10 L510.27,113.57 L510.47,113.04 L510.69,112.49 L510.94,111.90 L511.21,111.28 L511.50,110.60 L511.84,109.88 L512.23,109.12 L512.64,108.32 L513.04,107.47 L513.41,106.57 L513.70,105.60 L513.92,104.54 L514.09,103.38 L514.21,102.16 L514.31,100.93 L514.41,99.73 L514.50,98.60 L514.59,97.47 L514.68,96.30 L514.75,95.16 L514.81,94.12 L514.86,93.24 L514.90,92.60 Z" fill="#6476c4" stroke="#3f52a2" stroke-width="0.5" stroke-linejoin="round"/>
<line x1="509.80" y1="116.40" x2="528.90" y2="116.40" stroke="#1f2f6a" stroke-width="0.8" />
<line x1="510.50" y1="121.50" x2="528.00" y2="121.50" stroke="#3a4f98" stroke-width="0.5" />
<circle cx="519.30" cy="95.80" r="1.35" fill="#fff" stroke="#4a62b0" stroke-width="0.4" />
<circle cx="519.30" cy="104.40" r="1.35" fill="#fff" stroke="#4a62b0" stroke-width="0.4" />
<circle cx="519.30" cy="110.40" r="1.35" fill="#fff" stroke="#4a62b0" stroke-width="0.4" />
<circle cx="513.10" cy="116.40" r="1.35" fill="#fff" stroke="#4a62b0" stroke-width="0.4" />
<circle cx="525.00" cy="116.60" r="1.35" fill="#fff" stroke="#4a62b0" stroke-width="0.4" />
<circle cx="519.30" cy="118.00" r="1.35" fill="#fff" stroke="#4a62b0" stroke-width="0.4" />
<circle cx="519.30" cy="121.50" r="1.35" fill="#fff" stroke="#4a62b0" stroke-width="0.4" />
<circle cx="519.30" cy="125.90" r="1.35" fill="#fff" stroke="#4a62b0" stroke-width="0.4" />
<circle cx="519.30" cy="144.80" r="1.35" fill="#fff" stroke="#4a62b0" stroke-width="0.4" />
<circle cx="525.40" cy="92.80" r="1.50" fill="#fff" stroke="#333" stroke-width="0.55" />
<text x="494.80" y="195.00" font-size="11.5" text-anchor="end" textLength="35.00" lengthAdjust="spacingAndGlyphs" transform="rotate(-45 494.80 195.00)" stroke="#222" stroke-width="0.2">Control</text>
<text x="528.50" y="197.50" font-size="11.5" text-anchor="end" fill="#5670c0" textLength="27.00" lengthAdjust="spacingAndGlyphs" transform="rotate(-45 528.50 197.50)" stroke="#5670c0" stroke-width="0.2">Pyro<tspan font-size="6.5" dy="-4.5">-1</tspan></text>
<text x="25.80" y="358.00" font-size="11" fill="#111" font-weight="bold">c</text>
<text x="46.60" y="358.00" font-size="10.6" textLength="175.60" lengthAdjust="spacingAndGlyphs" stroke="#222" stroke-width="0.2">Polarization is dependent on GsdmD</text>
<line x1="52.70" y1="364.50" x2="215.60" y2="364.50" stroke="#333" stroke-width="1.1" />
<line x1="40.40" y1="395.00" x2="40.40" y2="492.00" stroke="#999" stroke-width="0.8" />
<line x1="38.90" y1="396.80" x2="40.40" y2="396.80" stroke="#999" stroke-width="0.8" />
<text x="38.70" y="400.50" font-size="11.8" text-anchor="end" stroke="#222" stroke-width="0.25">4</text>
<line x1="38.90" y1="420.60" x2="40.40" y2="420.60" stroke="#999" stroke-width="0.8" />
<text x="38.70" y="424.30" font-size="11.8" text-anchor="end" stroke="#222" stroke-width="0.25">3</text>
<line x1="38.90" y1="444.40" x2="40.40" y2="444.40" stroke="#999" stroke-width="0.8" />
<text x="38.70" y="448.10" font-size="11.8" text-anchor="end" stroke="#222" stroke-width="0.25">2</text>
<line x1="38.90" y1="468.20" x2="40.40" y2="468.20" stroke="#999" stroke-width="0.8" />
<text x="38.70" y="471.90" font-size="11.8" text-anchor="end" stroke="#222" stroke-width="0.25">1</text>
<line x1="38.90" y1="492.00" x2="40.40" y2="492.00" stroke="#999" stroke-width="0.8" />
<text x="38.70" y="495.70" font-size="11.8" text-anchor="end" stroke="#222" stroke-width="0.25">0</text>
<line x1="40.40" y1="492.00" x2="127.50" y2="492.00" stroke="#999" stroke-width="0.9" />
<rect x="47.20" y="468.20" width="12.80" height="23.80" fill="#313434" stroke="none" stroke-width="1" />
<rect x="67.20" y="439.16" width="12.90" height="52.84" fill="#5a6bb8" stroke="none" stroke-width="1" />
<line x1="73.65" y1="439.16" x2="73.65" y2="432.98" stroke="#5a6bb8" stroke-width="0.9" />
<line x1="70.65" y1="432.98" x2="76.65" y2="432.98" stroke="#5a6bb8" stroke-width="0.9" />
<rect x="88.40" y="430.60" width="12.30" height="61.40" fill="#f06a4a" stroke="none" stroke-width="1" />
<line x1="94.55" y1="430.60" x2="94.55" y2="424.65" stroke="#f06a4a" stroke-width="0.9" />
<line x1="91.55" y1="424.65" x2="97.55" y2="424.65" stroke="#f06a4a" stroke-width="0.9" />
<rect x="109.20" y="457.01" width="12.70" height="34.99" fill="#a0405e" stroke="none" stroke-width="1" />
<line x1="115.55" y1="457.01" x2="115.55" y2="452.97" stroke="#a0405e" stroke-width="0.9" />
<line x1="112.55" y1="452.97" x2="118.55" y2="452.97" stroke="#a0405e" stroke-width="0.9" />
<line x1="40.80" y1="467.70" x2="46.30" y2="467.70" stroke="#000" stroke-opacity="1.0" stroke-width="1.4"/>
<line x1="50.50" y1="467.70" x2="56.00" y2="467.70" stroke="#000" stroke-opacity="0.5" stroke-width="1.4"/>
<line x1="60.20" y1="467.70" x2="65.70" y2="467.70" stroke="#000" stroke-opacity="1.0" stroke-width="1.4"/>
<line x1="69.90" y1="467.70" x2="75.40" y2="467.70" stroke="#000" stroke-opacity="0.5" stroke-width="1.4"/>
<line x1="79.60" y1="467.70" x2="80.10" y2="467.70" stroke="#000" stroke-opacity="0.5" stroke-width="1.4"/>
<line x1="80.10" y1="467.70" x2="85.10" y2="467.70" stroke="#000" stroke-opacity="1.0" stroke-width="1.4"/>
<line x1="89.30" y1="467.70" x2="94.80" y2="467.70" stroke="#000" stroke-opacity="0.5" stroke-width="1.4"/>
<line x1="99.00" y1="467.70" x2="100.70" y2="467.70" stroke="#000" stroke-opacity="0.5" stroke-width="1.4"/>
<line x1="100.70" y1="467.70" x2="104.50" y2="467.70" stroke="#000" stroke-opacity="1.0" stroke-width="1.4"/>
<line x1="108.70" y1="467.70" x2="109.20" y2="467.70" stroke="#000" stroke-opacity="1.0" stroke-width="1.4"/>
<line x1="109.20" y1="467.70" x2="114.20" y2="467.70" stroke="#000" stroke-opacity="0.5" stroke-width="1.4"/>
<line x1="118.40" y1="467.70" x2="121.90" y2="467.70" stroke="#000" stroke-opacity="0.5" stroke-width="1.4"/>
<line x1="121.90" y1="467.70" x2="123.90" y2="467.70" stroke="#000" stroke-opacity="1.0" stroke-width="1.4"/>
<line x1="128.10" y1="467.70" x2="128.50" y2="467.70" stroke="#000" stroke-opacity="1.0" stroke-width="1.4"/>
<circle cx="48.60" cy="467.80" r="1.10" fill="#fff" stroke="#ddd" stroke-width="0.3" />
<circle cx="51.30" cy="467.80" r="1.10" fill="#fff" stroke="#ddd" stroke-width="0.3" />
<circle cx="54.00" cy="467.80" r="1.10" fill="#fff" stroke="#ddd" stroke-width="0.3" />
<circle cx="56.70" cy="467.80" r="1.10" fill="#fff" stroke="#ddd" stroke-width="0.3" />
<circle cx="59.20" cy="467.80" r="1.10" fill="#fff" stroke="#ddd" stroke-width="0.3" />
<circle cx="73.90" cy="425.00" r="1.20" fill="none" stroke="#5266b8" stroke-width="0.6" />
<circle cx="73.90" cy="435.10" r="1.20" fill="none" stroke="#5266b8" stroke-width="0.6" />
<circle cx="71.10" cy="449.80" r="1.20" fill="#fff" stroke="none" stroke-width="0.6" />
<circle cx="76.50" cy="447.30" r="1.20" fill="#fff" stroke="none" stroke-width="0.6" />
<circle cx="94.30" cy="414.50" r="1.20" fill="none" stroke="#ef6349" stroke-width="0.6" />
<circle cx="91.90" cy="432.70" r="1.20" fill="#fff" stroke="none" stroke-width="0.6" />
<circle cx="96.90" cy="432.70" r="1.20" fill="#fff" stroke="none" stroke-width="0.6" />
<circle cx="94.50" cy="442.10" r="1.20" fill="#fff" stroke="none" stroke-width="0.6" />
<circle cx="115.20" cy="447.20" r="1.20" fill="none" stroke="#9c3558" stroke-width="0.6" />
<circle cx="115.20" cy="454.80" r="1.20" fill="none" stroke="#9c3558" stroke-width="0.6" />
<circle cx="112.30" cy="463.60" r="1.20" fill="#fff" stroke="none" stroke-width="0.6" />
<circle cx="117.90" cy="462.70" r="1.20" fill="#fff" stroke="none" stroke-width="0.6" />
<path d="M53.7,395.7 L53.7,393.7 L115.2,393.7 L115.2,395.7" fill="none" stroke="#aaa" stroke-width="0.6" />
<text x="83.50" y="391.20" font-size="5.5" text-anchor="middle" fill="#111">ns</text>
<path d="M53.7,404.4 L53.7,402.4 L94.3,402.4 L94.3,404.4" fill="none" stroke="#aaa" stroke-width="0.6" />
<text x="74.00" y="403.50" font-size="9" text-anchor="middle" fill="#111" font-weight="bold">*</text>
<path d="M53.7,413.0 L53.7,411.0 L73.6,411.0 L73.6,413.0" fill="none" stroke="#aaa" stroke-width="0.6" />
<text x="63.60" y="412.00" font-size="9" text-anchor="middle" fill="#111" font-weight="bold">*</text>
<text x="9.20" y="446.30" font-size="10.5" text-anchor="middle" textLength="114.80" lengthAdjust="spacingAndGlyphs" transform="rotate(-90 9.20 446.30)" stroke="#222" stroke-width="0.2">Fold change  % CD301<tspan font-size="6" dy="-4">+</tspan></text>
<text x="23.40" y="445.20" font-size="10.5" text-anchor="middle" textLength="66.60" lengthAdjust="spacingAndGlyphs" transform="rotate(-90 23.40 445.20)" stroke="#222" stroke-width="0.2">(Over control)</text>
<text x="57.80" y="502.00" font-size="12" text-anchor="end" textLength="34.50" lengthAdjust="spacingAndGlyphs" transform="rotate(-45 57.80 502.00)" stroke="#222" stroke-width="0.2">Control</text>
<text x="82.50" y="502.50" font-size="12" text-anchor="end" fill="#5266b8" textLength="26.50" lengthAdjust="spacingAndGlyphs" transform="rotate(-45 82.50 502.50)" stroke="#5266b8" stroke-width="0.2">Pyro<tspan font-size="6.5" dy="-4.5">-1</tspan></text>
<text x="99.50" y="504.00" font-size="12" text-anchor="end" fill="#e04848" textLength="36.00" lengthAdjust="spacingAndGlyphs" transform="rotate(-45 99.50 504.00)" stroke="#e04848" stroke-width="0.2">Pyro<tspan font-size="6.5" dy="-4.5">-1-18</tspan></text>
<text x="126.00" y="502.50" font-size="12" text-anchor="end" fill="#c0405a" textLength="48.00" lengthAdjust="spacingAndGlyphs" transform="rotate(-45 126.00 502.50)" stroke="#c0405a" stroke-width="0.2">GsdmDKO</text>
<line x1="184.20" y1="395.00" x2="184.20" y2="489.20" stroke="#999" stroke-width="0.8" />
<line x1="182.70" y1="396.20" x2="184.20" y2="396.20" stroke="#999" stroke-width="0.8" />
<text x="182.30" y="399.90" font-size="11.6" text-anchor="end" stroke="#222" stroke-width="0.25">1.5</text>
<line x1="182.70" y1="427.20" x2="184.20" y2="427.20" stroke="#999" stroke-width="0.8" />
<text x="182.30" y="430.90" font-size="11.6" text-anchor="end" stroke="#222" stroke-width="0.25">1.0</text>
<line x1="182.70" y1="458.20" x2="184.20" y2="458.20" stroke="#999" stroke-width="0.8" />
<text x="182.30" y="461.90" font-size="11.6" text-anchor="end" stroke="#222" stroke-width="0.25">0.5</text>
<line x1="182.70" y1="489.20" x2="184.20" y2="489.20" stroke="#999" stroke-width="0.8" />
<text x="182.30" y="492.90" font-size="11.6" text-anchor="end" stroke="#222" stroke-width="0.25">0.0</text>
<line x1="184.20" y1="489.20" x2="260.80" y2="489.20" stroke="#999" stroke-width="0.9" />
<rect x="189.90" y="427.20" width="12.70" height="62.00" fill="#313434" stroke="none" stroke-width="1" />
<rect x="207.00" y="408.60" width="12.90" height="80.60" fill="#5d6db5" stroke="none" stroke-width="1" />
<line x1="213.45" y1="408.60" x2="213.45" y2="406.12" stroke="#5d6db5" stroke-width="0.9" />
<line x1="210.45" y1="406.12" x2="216.45" y2="406.12" stroke="#5d6db5" stroke-width="0.9" />
<rect x="224.60" y="404.88" width="12.70" height="84.32" fill="#f07050" stroke="none" stroke-width="1" />
<line x1="230.95" y1="404.88" x2="230.95" y2="403.64" stroke="#f07050" stroke-width="0.9" />
<line x1="227.95" y1="403.64" x2="233.95" y2="403.64" stroke="#f07050" stroke-width="0.9" />
<rect x="242.00" y="421.00" width="12.70" height="68.20" fill="#a65a72" stroke="none" stroke-width="1" />
<line x1="248.35" y1="421.00" x2="248.35" y2="418.52" stroke="#a65a72" stroke-width="0.9" />
<line x1="245.35" y1="418.52" x2="251.35" y2="418.52" stroke="#a65a72" stroke-width="0.9" />
<line x1="184.20" y1="427.20" x2="188.60" y2="427.20" stroke="#000" stroke-opacity="1.0" stroke-width="1.4"/>
<line x1="192.20" y1="427.20" x2="197.30" y2="427.20" stroke="#000" stroke-opacity="0.5" stroke-width="1.4"/>
<line x1="200.90" y1="427.20" x2="202.60" y2="427.20" stroke="#000" stroke-opacity="0.5" stroke-width="1.4"/>
<line x1="202.60" y1="427.20" x2="206.00" y2="427.20" stroke="#000" stroke-opacity="1.0" stroke-width="1.4"/>
<line x1="209.60" y1="427.20" x2="214.70" y2="427.20" stroke="#000" stroke-opacity="0.5" stroke-width="1.4"/>
<line x1="218.30" y1="427.20" x2="219.90" y2="427.20" stroke="#000" stroke-opacity="0.5" stroke-width="1.4"/>
<line x1="219.90" y1="427.20" x2="223.40" y2="427.20" stroke="#000" stroke-opacity="1.0" stroke-width="1.4"/>
<line x1="227.00" y1="427.20" x2="232.10" y2="427.20" stroke="#000" stroke-opacity="0.5" stroke-width="1.4"/>
<line x1="235.70" y1="427.20" x2="237.30" y2="427.20" stroke="#000" stroke-opacity="0.5" stroke-width="1.4"/>
<line x1="237.30" y1="427.20" x2="240.80" y2="427.20" stroke="#000" stroke-opacity="1.0" stroke-width="1.4"/>
<line x1="244.40" y1="427.20" x2="249.50" y2="427.20" stroke="#000" stroke-opacity="0.5" stroke-width="1.4"/>
<line x1="253.10" y1="427.20" x2="254.70" y2="427.20" stroke="#000" stroke-opacity="0.5" stroke-width="1.4"/>
<line x1="254.70" y1="427.20" x2="258.20" y2="427.20" stroke="#000" stroke-opacity="1.0" stroke-width="1.4"/>
<circle cx="191.50" cy="426.70" r="1.00" fill="#fff" stroke="#ddd" stroke-width="0.3" />
<circle cx="194.50" cy="426.70" r="1.00" fill="#fff" stroke="#ddd" stroke-width="0.3" />
<circle cx="197.50" cy="426.70" r="1.00" fill="#fff" stroke="#ddd" stroke-width="0.3" />
<circle cx="200.50" cy="426.70" r="1.00" fill="#fff" stroke="#ddd" stroke-width="0.3" />
<circle cx="211.50" cy="404.50" r="1.00" fill="none" stroke="#5266b8" stroke-width="0.5" />
<circle cx="215.00" cy="404.50" r="1.00" fill="none" stroke="#5266b8" stroke-width="0.5" />
<circle cx="213.50" cy="409.50" r="1.00" fill="#fff" stroke="none" stroke-width="0.5" />
<circle cx="213.50" cy="413.00" r="1.00" fill="#fff" stroke="none" stroke-width="0.5" />
<circle cx="229.50" cy="403.50" r="1.00" fill="none" stroke="#ef6349" stroke-width="0.5" />
<circle cx="232.50" cy="403.00" r="1.00" fill="none" stroke="#ef6349" stroke-width="0.5" />
<circle cx="231.00" cy="406.00" r="1.00" fill="#fff" stroke="none" stroke-width="0.5" />
<circle cx="246.50" cy="417.00" r="1.00" fill="none" stroke="#9c3558" stroke-width="0.5" />
<circle cx="250.00" cy="417.00" r="1.00" fill="none" stroke="#9c3558" stroke-width="0.5" />
<circle cx="245.50" cy="423.00" r="1.00" fill="#fff" stroke="none" stroke-width="0.5" />
<circle cx="251.00" cy="423.00" r="1.00" fill="#fff" stroke="none" stroke-width="0.5" />
<path d="M196.2,378.8 L196.2,377.3 L248.3,377.3 L248.3,379.3" fill="none" stroke="#999" stroke-width="0.6" />
<text x="222.20" y="374.50" font-size="8" text-anchor="middle" fill="#111" stroke="#111" stroke-width="0.2">ns</text>
<path d="M196.2,390.0 L196.2,388.5 L231.3,388.5 L231.3,390.5" fill="none" stroke="#999" stroke-width="0.6" />
<text x="213.80" y="390.60" font-size="13" text-anchor="middle" fill="#111" font-weight="bold">***</text>
<path d="M196.2,401.1 L196.2,399.6 L213.7,399.6 L213.7,401.6" fill="none" stroke="#999" stroke-width="0.6" />
<text x="205.40" y="401.00" font-size="13" text-anchor="middle" fill="#111" font-weight="bold">*</text>
<text x="145.00" y="445.50" font-size="10.5" text-anchor="middle" textLength="110.90" lengthAdjust="spacingAndGlyphs" transform="rotate(-90 145.00 445.50)" stroke="#222" stroke-width="0.2">Fold change CD301 MFI</text>
<text x="160.20" y="446.40" font-size="10.5" text-anchor="middle" textLength="67.30" lengthAdjust="spacingAndGlyphs" transform="rotate(-90 160.20 446.40)" stroke="#222" stroke-width="0.2">(Over control)</text>
<text x="200.20" y="498.00" font-size="12" text-anchor="end" textLength="34.50" lengthAdjust="spacingAndGlyphs" transform="rotate(-45 200.20 498.00)" stroke="#222" stroke-width="0.2">Control</text>
<text x="220.50" y="499.00" font-size="12" text-anchor="end" fill="#5266b8" textLength="26.50" lengthAdjust="spacingAndGlyphs" transform="rotate(-45 220.50 499.00)" stroke="#5266b8" stroke-width="0.2">Pyro<tspan font-size="6.5" dy="-4.5">-1</tspan></text>
<text x="240.00" y="500.00" font-size="12" text-anchor="end" fill="#e04848" textLength="36.00" lengthAdjust="spacingAndGlyphs" transform="rotate(-45 240.00 500.00)" stroke="#e04848" stroke-width="0.2">Pyro<tspan font-size="6.5" dy="-4.5">-1-18</tspan></text>
<text x="259.80" y="500.50" font-size="12" text-anchor="end" fill="#c0405a" textLength="48.00" lengthAdjust="spacingAndGlyphs" transform="rotate(-45 259.80 500.50)" stroke="#c0405a" stroke-width="0.2">GsdmDKO</text>
<text x="342.80" y="356.50" font-size="11" fill="#111" font-weight="bold">d</text>
<text x="378.10" y="356.30" font-size="10.3" textLength="243.00" lengthAdjust="spacingAndGlyphs" stroke="#222" stroke-width="0.2">Pyro<tspan font-size="6" dy="-3.5">-1</tspan><tspan dy="3.5"> supernatants do not induce Ly6C expression</tspan></text>
<line x1="381.50" y1="364.30" x2="616.70" y2="364.30" stroke="#333" stroke-width="1.1" />
<line x1="421.30" y1="408.00" x2="421.30" y2="500.30" stroke="#999" stroke-width="0.8" />
<line x1="419.80" y1="409.70" x2="421.30" y2="409.70" stroke="#999" stroke-width="0.8" />
<text x="419.80" y="412.70" font-size="8.4" text-anchor="end" stroke="#222" stroke-width="0.25">3000</text>
<line x1="419.80" y1="439.90" x2="421.30" y2="439.90" stroke="#999" stroke-width="0.8" />
<text x="419.80" y="442.90" font-size="8.4" text-anchor="end" stroke="#222" stroke-width="0.25">2000</text>
<line x1="419.80" y1="470.10" x2="421.30" y2="470.10" stroke="#999" stroke-width="0.8" />
<text x="419.80" y="473.10" font-size="8.4" text-anchor="end" stroke="#222" stroke-width="0.25">1000</text>
<line x1="419.80" y1="500.30" x2="421.30" y2="500.30" stroke="#999" stroke-width="0.8" />
<text x="419.80" y="503.30" font-size="8.4" text-anchor="end" stroke="#222" stroke-width="0.25">0</text>
<line x1="421.30" y1="500.30" x2="486.60" y2="500.30" stroke="#999" stroke-width="0.9" />
<path d="M439.7,413 L439.7,407.4 L468.1,407.4 L468.1,413" fill="none" stroke="#888" stroke-width="0.6" />
<text x="454.10" y="405.50" font-size="5.5" text-anchor="middle">ns</text>
<path d="M439.70,413.20 L440.01,413.71 L440.43,414.40 L440.94,415.23 L441.50,416.14 L442.10,417.08 L442.70,418.00 L443.36,418.93 L444.10,419.93 L444.88,420.95 L445.64,421.97 L446.33,422.97 L446.90,423.90 L447.34,424.78 L447.70,425.65 L447.99,426.48 L448.22,427.27 L448.42,428.02 L448.60,428.70 L448.77,429.29 L448.91,429.79 L449.02,430.24 L449.08,430.68 L449.08,431.15 L449.00,431.70 L448.83,432.32 L448.57,432.99 L448.25,433.69 L447.90,434.41 L447.54,435.15 L447.20,435.90 L446.85,436.68 L446.44,437.50 L446.04,438.34 L445.67,439.17 L445.37,439.96 L445.20,440.70 L445.17,441.37 L445.24,441.99 L445.40,442.57 L445.60,443.14 L445.81,443.71 L446.00,444.30 L446.19,444.87 L446.41,445.41 L446.65,445.96 L446.87,446.53 L447.06,447.17 L447.20,447.90 L447.28,448.75 L447.33,449.69 L447.35,450.70 L447.33,451.74 L447.28,452.78 L447.20,453.80 L447.08,454.81 L446.93,455.84 L446.75,456.87 L446.53,457.89 L446.28,458.87 L446.00,459.80 L445.66,460.66 L445.27,461.44 L444.85,462.20 L444.41,462.96 L443.99,463.74 L443.60,464.60 L443.21,465.53 L442.81,466.51 L442.42,467.53 L442.07,468.56 L441.78,469.59 L441.60,470.60 L441.55,471.61 L441.61,472.64 L441.74,473.68 L441.89,474.69 L442.03,475.67 L442.10,476.60 L442.11,477.47 L442.10,478.29 L442.07,479.08 L442.03,479.84 L441.97,480.61 L441.90,481.40 L441.81,482.17 L441.71,482.91 L441.59,483.66 L441.47,484.43 L441.33,485.27 L441.20,486.20 L441.06,487.30 L440.90,488.57 L440.74,489.90 L440.59,491.20 L440.43,492.36 L440.30,493.30 L440.18,494.00 L440.06,494.54 L439.94,494.94 L439.84,495.25 L439.76,495.49 L439.70,495.70 L439.70,495.70 L439.64,495.49 L439.56,495.25 L439.46,494.94 L439.34,494.54 L439.22,494.00 L439.10,493.30 L438.97,492.36 L438.81,491.20 L438.66,489.90 L438.50,488.57 L438.34,487.30 L438.20,486.20 L438.07,485.27 L437.93,484.43 L437.81,483.66 L437.69,482.91 L437.59,482.17 L437.50,481.40 L437.43,480.61 L437.37,479.84 L437.32,479.08 L437.30,478.29 L437.29,477.47 L437.30,476.60 L437.37,475.67 L437.51,474.69 L437.66,473.68 L437.79,472.64 L437.85,471.61 L437.80,470.60 L437.62,469.59 L437.33,468.56 L436.98,467.53 L436.59,466.51 L436.19,465.53 L435.80,464.60 L435.41,463.74 L434.99,462.96 L434.55,462.20 L434.13,461.44 L433.74,460.66 L433.40,459.80 L433.12,458.87 L432.87,457.89 L432.65,456.87 L432.47,455.84 L432.32,454.81 L432.20,453.80 L432.12,452.78 L432.07,451.74 L432.05,450.70 L432.07,449.69 L432.12,448.75 L432.20,447.90 L432.34,447.17 L432.53,446.53 L432.75,445.96 L432.99,445.41 L433.21,444.87 L433.40,444.30 L433.59,443.71 L433.80,443.14 L434.00,442.57 L434.16,441.99 L434.23,441.37 L434.20,440.70 L434.03,439.96 L433.73,439.17 L433.36,438.34 L432.96,437.50 L432.55,436.68 L432.20,435.90 L431.86,435.15 L431.50,434.41 L431.15,433.69 L430.83,432.99 L430.57,432.32 L430.40,431.70 L430.32,431.15 L430.32,430.68 L430.38,430.24 L430.49,429.79 L430.63,429.29 L430.80,428.70 L430.98,428.02 L431.18,427.27 L431.41,426.48 L431.70,425.65 L432.06,424.78 L432.50,423.90 L433.07,422.97 L433.76,421.97 L434.52,420.95 L435.30,419.93 L436.04,418.93 L436.70,418.00 L437.30,417.08 L437.90,416.14 L438.46,415.23 L438.97,414.40 L439.39,413.71 L439.70,413.20 Z" fill="#747474" stroke="#5e5e5e" stroke-width="0.4" stroke-linejoin="round"/>
<line x1="431.20" y1="431.50" x2="448.20" y2="431.50" stroke="#333" stroke-width="0.5" />
<line x1="431.20" y1="447.30" x2="448.20" y2="447.30" stroke="#333" stroke-width="0.5" />
<line x1="431.20" y1="459.20" x2="448.20" y2="459.20" stroke="#333" stroke-width="0.5" />
<circle cx="439.70" cy="426.60" r="0.95" fill="#777" stroke="#bbb" stroke-width="0.4" />
<circle cx="437.70" cy="430.50" r="0.95" fill="#777" stroke="#bbb" stroke-width="0.4" />
<circle cx="442.10" cy="431.40" r="0.95" fill="#777" stroke="#bbb" stroke-width="0.4" />
<circle cx="437.70" cy="433.50" r="0.95" fill="#777" stroke="#bbb" stroke-width="0.4" />
<circle cx="437.70" cy="447.50" r="0.95" fill="#777" stroke="#bbb" stroke-width="0.4" />
<circle cx="441.90" cy="447.50" r="0.95" fill="#777" stroke="#bbb" stroke-width="0.4" />
<circle cx="439.70" cy="451.50" r="0.95" fill="#777" stroke="#bbb" stroke-width="0.4" />
<circle cx="437.70" cy="459.20" r="0.95" fill="#777" stroke="#bbb" stroke-width="0.4" />
<circle cx="441.90" cy="460.40" r="0.95" fill="#777" stroke="#bbb" stroke-width="0.4" />
<circle cx="439.70" cy="480.40" r="0.95" fill="#777" stroke="#bbb" stroke-width="0.4" />
<path d="M468.10,415.60 L468.27,415.96 L468.50,416.46 L468.77,417.05 L469.06,417.70 L469.34,418.36 L469.60,419.00 L469.83,419.65 L470.05,420.34 L470.27,421.06 L470.48,421.76 L470.69,422.41 L470.90,423.00 L471.11,423.51 L471.32,423.96 L471.53,424.38 L471.73,424.76 L471.92,425.13 L472.10,425.50 L472.28,425.86 L472.46,426.20 L472.62,426.53 L472.77,426.85 L472.86,427.17 L472.90,427.50 L472.85,427.84 L472.71,428.19 L472.54,428.53 L472.35,428.87 L472.19,429.20 L472.10,429.50 L472.05,429.77 L472.01,430.02 L472.01,430.25 L472.04,430.48 L472.13,430.73 L472.30,431.00 L472.56,431.30 L472.91,431.60 L473.31,431.93 L473.75,432.26 L474.19,432.62 L474.60,433.00 L475.03,433.41 L475.51,433.86 L476.00,434.33 L476.44,434.80 L476.79,435.27 L477.00,435.70 L477.07,436.10 L477.02,436.47 L476.89,436.83 L476.68,437.20 L476.41,437.58 L476.10,438.00 L475.72,438.46 L475.24,438.95 L474.70,439.46 L474.14,439.97 L473.60,440.49 L473.10,441.00 L472.63,441.50 L472.16,442.00 L471.69,442.50 L471.27,443.00 L470.90,443.50 L470.60,444.00 L470.39,444.51 L470.26,445.04 L470.18,445.56 L470.14,446.07 L470.12,446.56 L470.10,447.00 L470.11,447.38 L470.16,447.70 L470.23,448.00 L470.30,448.30 L470.33,448.62 L470.30,449.00 L470.21,449.44 L470.06,449.93 L469.89,450.44 L469.69,450.96 L469.49,451.49 L469.30,452.00 L469.10,452.53 L468.87,453.11 L468.64,453.69 L468.42,454.22 L468.23,454.67 L468.10,455.00 L468.10,455.00 L467.97,454.67 L467.78,454.22 L467.56,453.69 L467.33,453.11 L467.10,452.53 L466.90,452.00 L466.71,451.49 L466.51,450.96 L466.31,450.44 L466.14,449.93 L465.99,449.44 L465.90,449.00 L465.87,448.62 L465.90,448.30 L465.97,448.00 L466.04,447.70 L466.09,447.38 L466.10,447.00 L466.08,446.56 L466.06,446.07 L466.02,445.56 L465.94,445.04 L465.81,444.51 L465.60,444.00 L465.30,443.50 L464.93,443.00 L464.51,442.50 L464.04,442.00 L463.57,441.50 L463.10,441.00 L462.60,440.49 L462.06,439.97 L461.50,439.46 L460.96,438.95 L460.48,438.46 L460.10,438.00 L459.79,437.58 L459.52,437.20 L459.31,436.83 L459.18,436.47 L459.13,436.10 L459.20,435.70 L459.41,435.27 L459.76,434.80 L460.20,434.33 L460.69,433.86 L461.17,433.41 L461.60,433.00 L462.01,432.62 L462.45,432.26 L462.89,431.93 L463.29,431.60 L463.64,431.30 L463.90,431.00 L464.07,430.73 L464.16,430.48 L464.19,430.25 L464.19,430.02 L464.15,429.77 L464.10,429.50 L464.01,429.20 L463.85,428.87 L463.66,428.53 L463.49,428.19 L463.35,427.84 L463.30,427.50 L463.34,427.17 L463.43,426.85 L463.58,426.53 L463.74,426.20 L463.93,425.86 L464.10,425.50 L464.28,425.13 L464.47,424.76 L464.67,424.38 L464.88,423.96 L465.09,423.51 L465.30,423.00 L465.51,422.41 L465.72,421.76 L465.93,421.06 L466.15,420.34 L466.37,419.65 L466.60,419.00 L466.86,418.36 L467.14,417.70 L467.43,417.05 L467.70,416.46 L467.93,415.96 L468.10,415.60 Z" fill="#7284d0" stroke="#5a6cbc" stroke-width="0.4" stroke-linejoin="round"/>
<line x1="459.30" y1="435.70" x2="476.90" y2="435.70" stroke="#2d3f7a" stroke-width="0.5" />
<circle cx="465.80" cy="428.40" r="0.95" fill="#6a80c8" stroke="#c8d0f0" stroke-width="0.4" />
<circle cx="470.30" cy="427.50" r="0.95" fill="#6a80c8" stroke="#c8d0f0" stroke-width="0.4" />
<circle cx="465.80" cy="433.50" r="0.95" fill="#6a80c8" stroke="#c8d0f0" stroke-width="0.4" />
<circle cx="465.80" cy="435.30" r="0.95" fill="#6a80c8" stroke="#c8d0f0" stroke-width="0.4" />
<circle cx="470.30" cy="435.70" r="0.95" fill="#6a80c8" stroke="#c8d0f0" stroke-width="0.4" />
<circle cx="465.80" cy="438.30" r="0.95" fill="#6a80c8" stroke="#c8d0f0" stroke-width="0.4" />
<circle cx="470.30" cy="438.30" r="0.95" fill="#6a80c8" stroke="#c8d0f0" stroke-width="0.4" />
<circle cx="470.30" cy="440.70" r="0.95" fill="#6a80c8" stroke="#c8d0f0" stroke-width="0.4" />
<circle cx="467.90" cy="448.50" r="0.95" fill="#6a80c8" stroke="#c8d0f0" stroke-width="0.4" />
<text x="376.20" y="450.10" font-size="10" text-anchor="middle" textLength="44.40" lengthAdjust="spacingAndGlyphs" transform="rotate(-90 376.20 450.10)" stroke="#222" stroke-width="0.2">MFI Ly6C</text>
<text x="390.20" y="449.50" font-size="10" text-anchor="middle" textLength="99.20" lengthAdjust="spacingAndGlyphs" transform="rotate(-90 390.20 449.50)" stroke="#222" stroke-width="0.2">in CD45<tspan font-size="6" dy="-4">+</tspan><tspan dy="4">\CD64</tspan><tspan font-size="6" dy="-4">+</tspan><tspan dy="4"> cells</tspan></text>
<text x="442.30" y="509.50" font-size="11.5" text-anchor="end" textLength="35.50" lengthAdjust="spacingAndGlyphs" transform="rotate(-45 442.30 509.50)" stroke="#222" stroke-width="0.2">Control</text>
<text x="477.50" y="510.00" font-size="11.5" text-anchor="end" fill="#5670c0" textLength="26.50" lengthAdjust="spacingAndGlyphs" transform="rotate(-45 477.50 510.00)" stroke="#5670c0" stroke-width="0.2">Pyro<tspan font-size="6.5" dy="-4.5">-1</tspan></text>
<line x1="566.30" y1="405.00" x2="566.30" y2="497.50" stroke="#999" stroke-width="0.8" />
<line x1="564.80" y1="406.25" x2="566.30" y2="406.25" stroke="#999" stroke-width="0.8" />
<text x="564.80" y="409.25" font-size="8.4" text-anchor="end" stroke="#222" stroke-width="0.25">5000</text>
<line x1="564.80" y1="424.50" x2="566.30" y2="424.50" stroke="#999" stroke-width="0.8" />
<text x="564.80" y="427.50" font-size="8.4" text-anchor="end" stroke="#222" stroke-width="0.25">4000</text>
<line x1="564.80" y1="442.75" x2="566.30" y2="442.75" stroke="#999" stroke-width="0.8" />
<text x="564.80" y="445.75" font-size="8.4" text-anchor="end" stroke="#222" stroke-width="0.25">3000</text>
<line x1="564.80" y1="461.00" x2="566.30" y2="461.00" stroke="#999" stroke-width="0.8" />
<text x="564.80" y="464.00" font-size="8.4" text-anchor="end" stroke="#222" stroke-width="0.25">2000</text>
<line x1="564.80" y1="479.25" x2="566.30" y2="479.25" stroke="#999" stroke-width="0.8" />
<text x="564.80" y="482.25" font-size="8.4" text-anchor="end" stroke="#222" stroke-width="0.25">1000</text>
<line x1="564.80" y1="497.50" x2="566.30" y2="497.50" stroke="#999" stroke-width="0.8" />
<text x="564.80" y="500.50" font-size="8.4" text-anchor="end" stroke="#222" stroke-width="0.25">0</text>
<line x1="566.30" y1="497.50" x2="632.20" y2="497.50" stroke="#999" stroke-width="0.9" />
<path d="M585.5,419 L585.5,412 L613.7,412 L613.7,415.4" fill="none" stroke="#888" stroke-width="0.6" />
<text x="599.70" y="410.30" font-size="5.5" text-anchor="middle">ns</text>
<path d="M585.50,419.30 L585.69,419.68 L585.96,420.21 L586.28,420.84 L586.61,421.51 L586.93,422.18 L587.20,422.80 L587.45,423.37 L587.70,423.94 L587.94,424.51 L588.13,425.07 L588.26,425.63 L588.30,426.20 L588.22,426.77 L588.03,427.33 L587.77,427.90 L587.49,428.47 L587.22,429.03 L587.00,429.60 L586.83,430.17 L586.66,430.73 L586.51,431.30 L586.37,431.87 L586.27,432.43 L586.20,433.00 L586.16,433.58 L586.15,434.17 L586.16,434.77 L586.21,435.35 L586.29,435.90 L586.40,436.40 L586.55,436.83 L586.73,437.21 L586.94,437.55 L587.19,437.89 L587.47,438.27 L587.80,438.70 L588.19,439.20 L588.64,439.75 L589.12,440.33 L589.63,440.93 L590.13,441.52 L590.60,442.10 L591.05,442.65 L591.51,443.19 L591.96,443.73 L592.40,444.28 L592.82,444.86 L593.20,445.50 L593.57,446.22 L593.93,447.03 L594.26,447.87 L594.56,448.69 L594.81,449.45 L595.00,450.10 L595.12,450.59 L595.19,450.96 L595.21,451.26 L595.18,451.56 L595.11,451.92 L595.00,452.40 L594.85,453.02 L594.66,453.73 L594.43,454.51 L594.16,455.31 L593.85,456.12 L593.50,456.90 L593.10,457.66 L592.63,458.43 L592.13,459.20 L591.61,459.97 L591.09,460.74 L590.60,461.50 L590.11,462.27 L589.61,463.05 L589.11,463.82 L588.63,464.59 L588.19,465.31 L587.80,466.00 L587.47,466.65 L587.18,467.28 L586.92,467.88 L586.70,468.43 L586.49,468.94 L586.30,469.40 L586.12,469.80 L585.95,470.16 L585.81,470.46 L585.68,470.72 L585.58,470.93 L585.50,471.10 L585.50,471.10 L585.42,470.93 L585.32,470.72 L585.19,470.46 L585.05,470.16 L584.88,469.80 L584.70,469.40 L584.51,468.94 L584.30,468.43 L584.08,467.88 L583.82,467.28 L583.53,466.65 L583.20,466.00 L582.81,465.31 L582.37,464.59 L581.89,463.82 L581.39,463.05 L580.89,462.27 L580.40,461.50 L579.91,460.74 L579.39,459.97 L578.87,459.20 L578.37,458.43 L577.90,457.66 L577.50,456.90 L577.15,456.12 L576.84,455.31 L576.57,454.51 L576.34,453.73 L576.15,453.02 L576.00,452.40 L575.89,451.92 L575.82,451.56 L575.79,451.26 L575.81,450.96 L575.88,450.59 L576.00,450.10 L576.19,449.45 L576.44,448.69 L576.74,447.87 L577.07,447.03 L577.43,446.22 L577.80,445.50 L578.18,444.86 L578.60,444.28 L579.04,443.73 L579.49,443.19 L579.95,442.65 L580.40,442.10 L580.87,441.52 L581.37,440.93 L581.88,440.33 L582.36,439.75 L582.81,439.20 L583.20,438.70 L583.53,438.27 L583.81,437.89 L584.06,437.55 L584.27,437.21 L584.45,436.83 L584.60,436.40 L584.71,435.90 L584.79,435.35 L584.84,434.77 L584.85,434.17 L584.84,433.58 L584.80,433.00 L584.73,432.43 L584.63,431.87 L584.49,431.30 L584.34,430.73 L584.17,430.17 L584.00,429.60 L583.78,429.03 L583.51,428.47 L583.23,427.90 L582.97,427.33 L582.78,426.77 L582.70,426.20 L582.74,425.63 L582.87,425.07 L583.06,424.51 L583.30,423.94 L583.55,423.37 L583.80,422.80 L584.07,422.18 L584.39,421.51 L584.72,420.84 L585.04,420.21 L585.31,419.68 L585.50,419.30 Z" fill="#747474" stroke="#5e5e5e" stroke-width="0.4" stroke-linejoin="round"/>
<line x1="577.00" y1="445.50" x2="594.00" y2="445.50" stroke="#333" stroke-width="0.5" />
<line x1="577.00" y1="451.20" x2="594.00" y2="451.20" stroke="#333" stroke-width="0.5" />
<line x1="577.00" y1="457.50" x2="594.00" y2="457.50" stroke="#333" stroke-width="0.5" />
<circle cx="585.50" cy="426.40" r="0.85" fill="#777" stroke="#bbb" stroke-width="0.4" />
<circle cx="585.50" cy="442.70" r="0.85" fill="#777" stroke="#bbb" stroke-width="0.4" />
<circle cx="585.50" cy="446.10" r="0.85" fill="#777" stroke="#bbb" stroke-width="0.4" />
<circle cx="584.40" cy="449.00" r="0.85" fill="#777" stroke="#bbb" stroke-width="0.4" />
<circle cx="587.20" cy="449.50" r="0.85" fill="#777" stroke="#bbb" stroke-width="0.4" />
<circle cx="584.40" cy="453.50" r="0.85" fill="#777" stroke="#bbb" stroke-width="0.4" />
<circle cx="587.20" cy="453.70" r="0.85" fill="#777" stroke="#bbb" stroke-width="0.4" />
<circle cx="585.50" cy="456.30" r="0.85" fill="#777" stroke="#bbb" stroke-width="0.4" />
<circle cx="584.40" cy="460.30" r="0.85" fill="#777" stroke="#bbb" stroke-width="0.4" />
<circle cx="587.20" cy="460.10" r="0.85" fill="#777" stroke="#bbb" stroke-width="0.4" />
<path d="M613.70,434.10 L614.01,434.34 L614.41,434.67 L614.89,435.07 L615.46,435.50 L616.10,435.96 L616.80,436.40 L617.66,436.86 L618.70,437.37 L619.81,437.89 L620.88,438.40 L621.82,438.88 L622.50,439.30 L622.92,439.65 L623.15,439.94 L623.24,440.19 L623.24,440.44 L623.17,440.70 L623.10,441.00 L623.01,441.33 L622.88,441.67 L622.69,442.02 L622.43,442.40 L622.11,442.79 L621.70,443.20 L621.14,443.66 L620.43,444.18 L619.64,444.72 L618.87,445.24 L618.19,445.71 L617.70,446.10 L617.37,446.38 L617.13,446.58 L616.99,446.73 L616.96,446.86 L617.02,447.00 L617.20,447.20 L617.55,447.44 L618.10,447.70 L618.74,447.97 L619.41,448.27 L620.03,448.57 L620.50,448.90 L620.84,449.25 L621.12,449.62 L621.34,450.01 L621.51,450.41 L621.63,450.81 L621.70,451.20 L621.73,451.57 L621.72,451.93 L621.66,452.28 L621.54,452.65 L621.35,453.05 L621.10,453.50 L620.75,454.01 L620.29,454.57 L619.77,455.16 L619.22,455.76 L618.69,456.35 L618.20,456.90 L617.75,457.43 L617.32,457.95 L616.89,458.46 L616.48,458.94 L616.08,459.39 L615.70,459.80 L615.31,460.17 L614.92,460.52 L614.54,460.83 L614.20,461.10 L613.91,461.33 L613.70,461.50 L613.70,461.50 L613.49,461.33 L613.20,461.10 L612.86,460.83 L612.48,460.52 L612.09,460.17 L611.70,459.80 L611.32,459.39 L610.92,458.94 L610.51,458.46 L610.08,457.95 L609.65,457.43 L609.20,456.90 L608.71,456.35 L608.18,455.76 L607.63,455.16 L607.11,454.57 L606.65,454.01 L606.30,453.50 L606.05,453.05 L605.86,452.65 L605.74,452.28 L605.68,451.93 L605.67,451.57 L605.70,451.20 L605.77,450.81 L605.89,450.41 L606.06,450.01 L606.28,449.62 L606.56,449.25 L606.90,448.90 L607.37,448.57 L607.99,448.27 L608.66,447.97 L609.30,447.70 L609.85,447.44 L610.20,447.20 L610.38,447.00 L610.44,446.86 L610.41,446.73 L610.27,446.58 L610.03,446.38 L609.70,446.10 L609.21,445.71 L608.53,445.24 L607.76,444.72 L606.97,444.18 L606.26,443.66 L605.70,443.20 L605.29,442.79 L604.97,442.40 L604.71,442.02 L604.52,441.67 L604.39,441.33 L604.30,441.00 L604.23,440.70 L604.16,440.44 L604.16,440.19 L604.25,439.94 L604.48,439.65 L604.90,439.30 L605.58,438.88 L606.52,438.40 L607.59,437.89 L608.70,437.37 L609.74,436.86 L610.60,436.40 L611.30,435.96 L611.94,435.50 L612.51,435.07 L612.99,434.67 L613.39,434.34 L613.70,434.10 Z" fill="#7284d0" stroke="#5a6cbc" stroke-width="0.4" stroke-linejoin="round"/>
<line x1="609.70" y1="447.20" x2="617.70" y2="447.20" stroke="#2d3f7a" stroke-width="0.5" />
<circle cx="610.50" cy="440.40" r="0.85" fill="#6a80c8" stroke="#c8d0f0" stroke-width="0.4" />
<circle cx="613.90" cy="440.40" r="0.85" fill="#6a80c8" stroke="#c8d0f0" stroke-width="0.4" />
<circle cx="617.40" cy="440.40" r="0.85" fill="#6a80c8" stroke="#c8d0f0" stroke-width="0.4" />
<circle cx="613.90" cy="443.80" r="0.85" fill="#6a80c8" stroke="#c8d0f0" stroke-width="0.4" />
<circle cx="613.90" cy="445.50" r="0.85" fill="#6a80c8" stroke="#c8d0f0" stroke-width="0.4" />
<circle cx="613.90" cy="451.20" r="0.85" fill="#6a80c8" stroke="#c8d0f0" stroke-width="0.4" />
<circle cx="617.40" cy="451.40" r="0.85" fill="#6a80c8" stroke="#c8d0f0" stroke-width="0.4" />
<circle cx="611.70" cy="453.30" r="0.85" fill="#6a80c8" stroke="#c8d0f0" stroke-width="0.4" />
<circle cx="615.60" cy="455.80" r="0.85" fill="#6a80c8" stroke="#c8d0f0" stroke-width="0.4" />
<circle cx="612.20" cy="456.30" r="0.85" fill="#6a80c8" stroke="#c8d0f0" stroke-width="0.4" />
<text x="526.60" y="447.30" font-size="10" text-anchor="middle" textLength="44.50" lengthAdjust="spacingAndGlyphs" transform="rotate(-90 526.60 447.30)" stroke="#222" stroke-width="0.2">MFI Ly6C</text>
<text x="540.30" y="445.40" font-size="10" text-anchor="middle" textLength="103.20" lengthAdjust="spacingAndGlyphs" transform="rotate(-90 540.30 445.40)" stroke="#222" stroke-width="0.2">in CD45<tspan font-size="6" dy="-4">+</tspan><tspan dy="4">\F4/80</tspan><tspan font-size="6" dy="-4">+</tspan><tspan dy="4"> cells</tspan></text>
<text x="588.30" y="507.50" font-size="11.5" text-anchor="end" textLength="35.50" lengthAdjust="spacingAndGlyphs" transform="rotate(-45 588.30 507.50)" stroke="#222" stroke-width="0.2">Control</text>
<text x="622.00" y="508.00" font-size="11.5" text-anchor="end" fill="#5670c0" textLength="26.50" lengthAdjust="spacingAndGlyphs" transform="rotate(-45 622.00 508.00)" stroke="#5670c0" stroke-width="0.2">Pyro<tspan font-size="6.5" dy="-4.5">-1</tspan></text>
<text x="-0.50" y="668.00" font-size="11" fill="#111" font-weight="bold">e</text>
<text x="138.00" y="653.50" font-size="10.2" text-anchor="middle" textLength="156.70" lengthAdjust="spacingAndGlyphs" stroke="#222" stroke-width="0.2">CD301 expression is enhanced in</text>
<text x="31.50" y="669.00" font-size="10.2" textLength="212.10" lengthAdjust="spacingAndGlyphs" stroke="#222" stroke-width="0.2">Lyc6C<tspan font-size="6.5" dy="-4">intermediate</tspan><tspan dy="4"> but not in Ly6C</tspan><tspan font-size="6.5" dy="-4">hi</tspan><tspan dy="4"> populations</tspan></text>
<line x1="35.30" y1="676.70" x2="242.90" y2="676.70" stroke="#333" stroke-width="1.1" />
<text x="72.40" y="705.60" font-size="10" text-anchor="middle" fill="#b33a3f" font-weight="bold" textLength="53.90" lengthAdjust="spacingAndGlyphs">CD301 MFI</text>
<text x="3.70" y="719.70" font-size="10" fill="#b33a3f" font-weight="bold" textLength="140.20" lengthAdjust="spacingAndGlyphs">( Ly6C<tspan font-size="6.5" dy="-4">Intermediate</tspan><tspan dy="4"> CD64</tspan><tspan font-size="6.5" dy="-4">+</tspan><tspan dy="4">macs)</tspan></text>
<text x="219.00" y="704.80" font-size="10" text-anchor="middle" fill="#b33a3f" font-weight="bold" textLength="53.30" lengthAdjust="spacingAndGlyphs">CD301 MFI</text>
<text x="167.40" y="719.20" font-size="10" fill="#b33a3f" font-weight="bold" textLength="101.80" lengthAdjust="spacingAndGlyphs">(Ly6C<tspan font-size="6.5" dy="-4">hi</tspan><tspan dy="4"> CD64</tspan><tspan font-size="6.5" dy="-4">+</tspan><tspan dy="4"> macs)</tspan></text>
<line x1="45.90" y1="740.00" x2="45.90" y2="838.10" stroke="#999" stroke-width="0.8" />
<line x1="44.40" y1="741.60" x2="45.90" y2="741.60" stroke="#999" stroke-width="0.8" />
<text x="43.80" y="744.60" font-size="8.5" text-anchor="end" stroke="#222" stroke-width="0.25">5</text>
<line x1="44.40" y1="760.90" x2="45.90" y2="760.90" stroke="#999" stroke-width="0.8" />
<text x="43.80" y="763.90" font-size="8.5" text-anchor="end" stroke="#222" stroke-width="0.25">4</text>
<line x1="44.40" y1="780.20" x2="45.90" y2="780.20" stroke="#999" stroke-width="0.8" />
<text x="43.80" y="783.20" font-size="8.5" text-anchor="end" stroke="#222" stroke-width="0.25">3</text>
<line x1="44.40" y1="799.50" x2="45.90" y2="799.50" stroke="#999" stroke-width="0.8" />
<text x="43.80" y="802.50" font-size="8.5" text-anchor="end" stroke="#222" stroke-width="0.25">2</text>
<line x1="44.40" y1="818.80" x2="45.90" y2="818.80" stroke="#999" stroke-width="0.8" />
<text x="43.80" y="821.80" font-size="8.5" text-anchor="end" stroke="#222" stroke-width="0.25">1</text>
<line x1="44.40" y1="838.10" x2="45.90" y2="838.10" stroke="#999" stroke-width="0.8" />
<text x="43.80" y="841.10" font-size="8.5" text-anchor="end" stroke="#222" stroke-width="0.25">0</text>
<line x1="45.90" y1="838.10" x2="127.80" y2="838.10" stroke="#999" stroke-width="0.9" />
<path d="M68.2,752 L68.2,749.5 L104.4,749.5 L104.4,752" fill="none" stroke="#555" stroke-width="0.6" />
<text x="86.60" y="751.20" font-size="11.5" text-anchor="middle" fill="#111" font-weight="bold">*</text>
<line x1="68.20" y1="787.00" x2="68.20" y2="819.50" stroke="#555" stroke-width="0.6" />
<path d="M65.2,782.8 C65.2,781.6 67.5,781.6 68.2,782.6 C68.9,781.6 71.2,781.6 71.2,782.8 L68.2,788.2 Z" fill="#d9d9d9" stroke="#555" stroke-width="0.5" />
<path d="M68.20,819.40 L68.49,819.56 L68.88,819.78 L69.35,820.04 L69.85,820.34 L70.35,820.66 L70.80,821.00 L71.21,821.36 L71.62,821.77 L72.03,822.19 L72.42,822.63 L72.81,823.07 L73.20,823.50 L73.59,823.93 L74.00,824.36 L74.40,824.80 L74.78,825.23 L75.12,825.63 L75.40,826.00 L75.63,826.33 L75.81,826.64 L75.96,826.92 L76.07,827.19 L76.15,827.45 L76.20,827.70 L76.20,827.94 L76.13,828.16 L76.04,828.36 L75.93,828.57 L75.85,828.78 L75.80,829.00 L75.78,829.23 L75.77,829.47 L75.77,829.71 L75.80,829.96 L75.87,830.22 L76.00,830.50 L76.20,830.80 L76.46,831.13 L76.77,831.47 L77.09,831.81 L77.41,832.16 L77.70,832.50 L77.97,832.84 L78.25,833.17 L78.52,833.51 L78.77,833.85 L79.00,834.18 L79.20,834.50 L79.36,834.82 L79.50,835.14 L79.61,835.46 L79.69,835.77 L79.76,836.05 L79.80,836.30 L79.81,836.52 L79.79,836.73 L79.74,836.91 L79.68,837.07 L79.63,837.20 L79.60,837.30 L56.80,837.30 L56.77,837.20 L56.72,837.07 L56.66,836.91 L56.61,836.73 L56.59,836.52 L56.60,836.30 L56.64,836.05 L56.71,835.77 L56.79,835.46 L56.90,835.14 L57.04,834.82 L57.20,834.50 L57.40,834.18 L57.63,833.85 L57.88,833.51 L58.15,833.17 L58.43,832.84 L58.70,832.50 L58.99,832.16 L59.31,831.81 L59.63,831.47 L59.94,831.13 L60.20,830.80 L60.40,830.50 L60.53,830.22 L60.60,829.96 L60.63,829.71 L60.63,829.47 L60.62,829.23 L60.60,829.00 L60.55,828.78 L60.47,828.57 L60.36,828.36 L60.27,828.16 L60.20,827.94 L60.20,827.70 L60.25,827.45 L60.33,827.19 L60.44,826.92 L60.59,826.64 L60.77,826.33 L61.00,826.00 L61.28,825.63 L61.62,825.23 L62.00,824.80 L62.40,824.36 L62.81,823.93 L63.20,823.50 L63.59,823.07 L63.98,822.63 L64.38,822.19 L64.78,821.77 L65.19,821.36 L65.60,821.00 L66.05,820.66 L66.55,820.34 L67.05,820.04 L67.52,819.78 L67.91,819.56 L68.20,819.40 Z" fill="#dadada" stroke="#444" stroke-width="0.55" stroke-linejoin="round"/>
<line x1="60.00" y1="827.60" x2="76.00" y2="827.60" stroke="#777" stroke-width="0.4" />
<line x1="57.00" y1="836.20" x2="79.00" y2="836.20" stroke="#777" stroke-width="0.4" />
<circle cx="68.70" cy="784.20" r="1.20" fill="#eee" stroke="#1a1a1a" stroke-width="0.6" />
<circle cx="66.30" cy="827.20" r="1.20" fill="#eee" stroke="#1a1a1a" stroke-width="0.6" />
<circle cx="70.90" cy="827.40" r="1.20" fill="#eee" stroke="#1a1a1a" stroke-width="0.6" />
<circle cx="68.60" cy="824.50" r="1.20" fill="#eee" stroke="#1a1a1a" stroke-width="0.6" />
<circle cx="68.60" cy="832.20" r="1.20" fill="#eee" stroke="#1a1a1a" stroke-width="0.6" />
<circle cx="64.30" cy="837.00" r="1.20" fill="#eee" stroke="#1a1a1a" stroke-width="0.6" />
<circle cx="68.60" cy="836.20" r="1.20" fill="#eee" stroke="#1a1a1a" stroke-width="0.6" />
<circle cx="73.30" cy="834.20" r="1.20" fill="#eee" stroke="#1a1a1a" stroke-width="0.6" />
<circle cx="73.30" cy="836.90" r="1.20" fill="#eee" stroke="#1a1a1a" stroke-width="0.6" />
<path d="M108.70,755.40 L108.76,756.02 L108.83,756.86 L108.92,757.86 L109.03,758.97 L109.15,760.13 L109.30,761.30 L109.48,762.49 L109.68,763.74 L109.90,765.04 L110.13,766.40 L110.37,767.78 L110.60,769.20 L110.85,770.66 L111.14,772.17 L111.43,773.72 L111.69,775.29 L111.89,776.85 L112.00,778.40 L112.02,779.95 L111.96,781.52 L111.84,783.09 L111.68,784.64 L111.49,786.15 L111.30,787.60 L111.07,788.98 L110.77,790.30 L110.46,791.58 L110.15,792.84 L109.88,794.11 L109.70,795.40 L109.58,796.73 L109.50,798.07 L109.46,799.42 L109.47,800.76 L109.55,802.06 L109.70,803.30 L109.95,804.48 L110.29,805.60 L110.69,806.68 L111.13,807.75 L111.57,808.82 L112.00,809.90 L112.43,811.00 L112.89,812.10 L113.36,813.21 L113.82,814.31 L114.24,815.41 L114.60,816.50 L114.92,817.59 L115.20,818.67 L115.46,819.75 L115.66,820.83 L115.81,821.91 L115.90,823.00 L115.91,824.11 L115.86,825.24 L115.75,826.38 L115.60,827.49 L115.41,828.57 L115.20,829.60 L114.94,830.61 L114.60,831.62 L114.23,832.60 L113.87,833.50 L113.54,834.28 L113.30,834.90 L113.14,835.33 L113.04,835.59 L112.98,835.73 L112.95,835.80 L112.93,835.84 L112.90,835.90 L95.90,835.90 L95.87,835.84 L95.85,835.80 L95.82,835.73 L95.76,835.59 L95.66,835.33 L95.50,834.90 L95.26,834.28 L94.93,833.50 L94.57,832.60 L94.20,831.62 L93.86,830.61 L93.60,829.60 L93.39,828.57 L93.20,827.49 L93.05,826.38 L92.94,825.24 L92.89,824.11 L92.90,823.00 L92.99,821.91 L93.14,820.83 L93.34,819.75 L93.60,818.67 L93.88,817.59 L94.20,816.50 L94.56,815.41 L94.98,814.31 L95.44,813.21 L95.91,812.10 L96.37,811.00 L96.80,809.90 L97.23,808.82 L97.67,807.75 L98.11,806.68 L98.51,805.60 L98.85,804.48 L99.10,803.30 L99.25,802.06 L99.33,800.76 L99.34,799.42 L99.30,798.07 L99.22,796.73 L99.10,795.40 L98.92,794.11 L98.65,792.84 L98.34,791.58 L98.03,790.30 L97.73,788.98 L97.50,787.60 L97.31,786.15 L97.12,784.64 L96.96,783.09 L96.84,781.52 L96.78,779.95 L96.80,778.40 L96.91,776.85 L97.11,775.29 L97.38,773.72 L97.66,772.17 L97.95,770.66 L98.20,769.20 L98.43,767.78 L98.67,766.40 L98.90,765.04 L99.12,763.74 L99.33,762.49 L99.50,761.30 L99.65,760.13 L99.77,758.97 L99.88,757.86 L99.97,756.86 L100.04,756.02 L100.10,755.40 Z" fill="#8c9adc" stroke="#5a6ac2" stroke-width="0.5" stroke-linejoin="round"/>
<line x1="96.80" y1="778.40" x2="112.00" y2="778.40" stroke="#5868c0" stroke-width="0.5" />
<line x1="96.60" y1="810.50" x2="112.20" y2="810.50" stroke="#5868c0" stroke-width="0.5" />
<line x1="93.10" y1="826.30" x2="115.70" y2="826.30" stroke="#5868c0" stroke-width="0.5" />
<circle cx="104.40" cy="755.80" r="1.40" fill="#eef0fc" stroke="#4a5ab8" stroke-width="0.5" />
<circle cx="104.40" cy="772.40" r="1.40" fill="#eef0fc" stroke="#4a5ab8" stroke-width="0.5" />
<circle cx="104.40" cy="783.90" r="1.40" fill="#eef0fc" stroke="#4a5ab8" stroke-width="0.5" />
<circle cx="104.40" cy="790.40" r="1.40" fill="#eef0fc" stroke="#4a5ab8" stroke-width="0.5" />
<circle cx="104.40" cy="810.50" r="1.40" fill="#eef0fc" stroke="#4a5ab8" stroke-width="0.5" />
<circle cx="104.40" cy="817.50" r="1.40" fill="#eef0fc" stroke="#4a5ab8" stroke-width="0.5" />
<circle cx="101.80" cy="825.70" r="1.40" fill="#eef0fc" stroke="#4a5ab8" stroke-width="0.5" />
<circle cx="106.60" cy="826.60" r="1.40" fill="#eef0fc" stroke="#4a5ab8" stroke-width="0.5" />
<circle cx="104.40" cy="835.50" r="1.40" fill="#eef0fc" stroke="#4a5ab8" stroke-width="0.5" />
<text x="31.00" y="786.00" font-size="10" text-anchor="middle" textLength="83.10" lengthAdjust="spacingAndGlyphs" transform="rotate(-90 31.00 786.00)" stroke="#222" stroke-width="0.2">MFI*1000  CD301</text>
<text x="77.30" y="854.00" font-size="11" text-anchor="end" textLength="33.00" lengthAdjust="spacingAndGlyphs" transform="rotate(-45 77.30 854.00)" stroke="#222" stroke-width="0.2">Control</text>
<text x="113.20" y="857.50" font-size="11" text-anchor="end" fill="#5670c0" textLength="25.00" lengthAdjust="spacingAndGlyphs" transform="rotate(-45 113.20 857.50)" stroke="#5670c0" stroke-width="0.2">Pyro<tspan font-size="6.5" dy="-4.5">-1</tspan></text>
<line x1="199.80" y1="735.00" x2="199.80" y2="833.40" stroke="#999" stroke-width="0.8" />
<line x1="198.30" y1="736.05" x2="199.80" y2="736.05" stroke="#999" stroke-width="0.8" />
<text x="198.30" y="739.05" font-size="8.5" text-anchor="end" stroke="#222" stroke-width="0.25">1.5</text>
<line x1="198.30" y1="768.50" x2="199.80" y2="768.50" stroke="#999" stroke-width="0.8" />
<text x="198.30" y="771.50" font-size="8.5" text-anchor="end" stroke="#222" stroke-width="0.25">1.0</text>
<line x1="198.30" y1="800.95" x2="199.80" y2="800.95" stroke="#999" stroke-width="0.8" />
<text x="198.30" y="803.95" font-size="8.5" text-anchor="end" stroke="#222" stroke-width="0.25">0.5</text>
<line x1="198.30" y1="833.40" x2="199.80" y2="833.40" stroke="#999" stroke-width="0.8" />
<text x="198.30" y="836.40" font-size="8.5" text-anchor="end" stroke="#222" stroke-width="0.25">0.0</text>
<line x1="199.80" y1="833.40" x2="272.70" y2="833.40" stroke="#999" stroke-width="0.9" />
<path d="M220.5,766.4 L220.5,763.2 L252,763.2 L252,764.2" fill="none" stroke="#555" stroke-width="0.6" />
<text x="236.40" y="761.50" font-size="5.5" text-anchor="middle">ns</text>
<path d="M223.30,769.50 L223.41,769.82 L223.56,770.26 L223.74,770.78 L223.94,771.36 L224.13,771.97 L224.30,772.60 L224.48,773.26 L224.69,773.97 L224.89,774.72 L225.07,775.49 L225.18,776.25 L225.20,777.00 L225.08,777.74 L224.83,778.49 L224.53,779.24 L224.22,779.98 L223.99,780.70 L223.90,781.40 L223.94,782.08 L224.05,782.74 L224.23,783.38 L224.49,784.01 L224.81,784.61 L225.20,785.20 L225.72,785.76 L226.37,786.29 L227.09,786.79 L227.81,787.29 L228.47,787.79 L229.00,788.30 L229.41,788.82 L229.77,789.36 L230.06,789.89 L230.29,790.41 L230.43,790.92 L230.50,791.40 L230.48,791.84 L230.39,792.25 L230.21,792.64 L229.97,793.04 L229.66,793.45 L229.30,793.90 L228.84,794.42 L228.26,794.99 L227.62,795.58 L226.96,796.16 L226.34,796.67 L225.80,797.10 L225.32,797.43 L224.86,797.69 L224.43,797.90 L224.05,798.06 L223.74,798.19 L223.50,798.30 L217.50,798.30 L217.26,798.19 L216.95,798.06 L216.57,797.90 L216.14,797.69 L215.68,797.43 L215.20,797.10 L214.66,796.67 L214.04,796.16 L213.38,795.58 L212.74,794.99 L212.16,794.42 L211.70,793.90 L211.34,793.45 L211.03,793.04 L210.79,792.64 L210.61,792.25 L210.52,791.84 L210.50,791.40 L210.57,790.92 L210.71,790.41 L210.94,789.89 L211.23,789.36 L211.59,788.82 L212.00,788.30 L212.53,787.79 L213.19,787.29 L213.91,786.79 L214.63,786.29 L215.28,785.76 L215.80,785.20 L216.19,784.61 L216.51,784.01 L216.77,783.38 L216.95,782.74 L217.06,782.08 L217.10,781.40 L217.01,780.70 L216.78,779.98 L216.47,779.24 L216.17,778.49 L215.92,777.74 L215.80,777.00 L215.82,776.25 L215.93,775.49 L216.11,774.72 L216.31,773.97 L216.52,773.26 L216.70,772.60 L216.87,771.97 L217.06,771.36 L217.26,770.78 L217.44,770.26 L217.59,769.82 L217.70,769.50 Z" fill="#dadada" stroke="#444" stroke-width="0.55" stroke-linejoin="round"/>
<line x1="212.00" y1="790.80" x2="229.00" y2="790.80" stroke="#777" stroke-width="0.4" />
<line x1="212.00" y1="792.30" x2="229.00" y2="792.30" stroke="#777" stroke-width="0.4" />
<circle cx="220.70" cy="770.40" r="1.20" fill="#eee" stroke="#1a1a1a" stroke-width="0.6" />
<circle cx="218.20" cy="777.90" r="1.20" fill="#eee" stroke="#1a1a1a" stroke-width="0.6" />
<circle cx="223.20" cy="777.40" r="1.20" fill="#eee" stroke="#1a1a1a" stroke-width="0.6" />
<circle cx="220.70" cy="786.40" r="1.20" fill="#eee" stroke="#1a1a1a" stroke-width="0.6" />
<circle cx="218.80" cy="789.60" r="1.20" fill="#eee" stroke="#1a1a1a" stroke-width="0.6" />
<circle cx="213.80" cy="791.40" r="1.20" fill="#eee" stroke="#1a1a1a" stroke-width="0.6" />
<circle cx="222.00" cy="791.40" r="1.20" fill="#eee" stroke="#1a1a1a" stroke-width="0.6" />
<circle cx="225.10" cy="791.20" r="1.20" fill="#eee" stroke="#1a1a1a" stroke-width="0.6" />
<circle cx="228.20" cy="791.10" r="1.20" fill="#eee" stroke="#1a1a1a" stroke-width="0.6" />
<circle cx="218.20" cy="797.50" r="1.20" fill="#eee" stroke="#1a1a1a" stroke-width="0.6" />
<circle cx="222.60" cy="796.20" r="1.20" fill="#eee" stroke="#1a1a1a" stroke-width="0.6" />
<path d="M257.60,766.10 L257.70,766.54 L257.83,767.14 L257.98,767.86 L258.16,768.63 L258.37,769.40 L258.60,770.10 L258.87,770.74 L259.17,771.36 L259.50,771.98 L259.84,772.60 L260.18,773.23 L260.50,773.90 L260.84,774.61 L261.23,775.37 L261.61,776.14 L261.95,776.91 L262.19,777.63 L262.30,778.30 L262.26,778.89 L262.11,779.43 L261.86,779.93 L261.55,780.41 L261.19,780.90 L260.80,781.40 L260.32,781.92 L259.73,782.46 L259.08,782.99 L258.46,783.51 L257.94,784.02 L257.60,784.50 L257.47,784.94 L257.51,785.35 L257.64,785.74 L257.81,786.14 L257.96,786.55 L258.00,787.00 L257.98,787.49 L257.95,788.02 L257.89,788.56 L257.77,789.11 L257.59,789.66 L257.30,790.20 L256.87,790.75 L256.29,791.32 L255.64,791.89 L254.99,792.43 L254.38,792.91 L253.90,793.30 L253.53,793.59 L253.23,793.80 L252.99,793.94 L252.79,794.05 L252.63,794.13 L252.50,794.20 L251.50,794.20 L251.37,794.13 L251.21,794.05 L251.01,793.94 L250.77,793.80 L250.47,793.59 L250.10,793.30 L249.62,792.91 L249.01,792.43 L248.36,791.89 L247.71,791.32 L247.13,790.75 L246.70,790.20 L246.41,789.66 L246.23,789.11 L246.11,788.56 L246.05,788.02 L246.02,787.49 L246.00,787.00 L246.04,786.55 L246.19,786.14 L246.36,785.74 L246.49,785.35 L246.53,784.94 L246.40,784.50 L246.06,784.02 L245.54,783.51 L244.92,782.99 L244.27,782.46 L243.68,781.92 L243.20,781.40 L242.81,780.90 L242.45,780.41 L242.14,779.93 L241.89,779.43 L241.74,778.89 L241.70,778.30 L241.81,777.63 L242.05,776.91 L242.39,776.14 L242.77,775.37 L243.16,774.61 L243.50,773.90 L243.82,773.23 L244.16,772.60 L244.50,771.98 L244.83,771.36 L245.13,770.74 L245.40,770.10 L245.63,769.40 L245.84,768.63 L246.02,767.86 L246.17,767.14 L246.30,766.54 L246.40,766.10 Z" fill="#8c9adc" stroke="#5a6ac2" stroke-width="0.5" stroke-linejoin="round"/>
<line x1="242.00" y1="779.50" x2="262.00" y2="779.50" stroke="#5868c0" stroke-width="0.5" />
<line x1="246.20" y1="788.30" x2="257.80" y2="788.30" stroke="#5868c0" stroke-width="0.5" />
<circle cx="247.70" cy="766.40" r="1.40" fill="#eef0fc" stroke="#4a5ab8" stroke-width="0.5" />
<circle cx="252.00" cy="767.40" r="1.40" fill="#eef0fc" stroke="#4a5ab8" stroke-width="0.5" />
<circle cx="252.00" cy="774.10" r="1.40" fill="#eef0fc" stroke="#4a5ab8" stroke-width="0.5" />
<circle cx="256.40" cy="773.30" r="1.40" fill="#eef0fc" stroke="#4a5ab8" stroke-width="0.5" />
<circle cx="247.40" cy="779.10" r="1.40" fill="#eef0fc" stroke="#4a5ab8" stroke-width="0.5" />
<circle cx="252.00" cy="779.50" r="1.40" fill="#eef0fc" stroke="#4a5ab8" stroke-width="0.5" />
<circle cx="256.40" cy="779.10" r="1.40" fill="#eef0fc" stroke="#4a5ab8" stroke-width="0.5" />
<circle cx="252.00" cy="787.90" r="1.40" fill="#eef0fc" stroke="#4a5ab8" stroke-width="0.5" />
<circle cx="256.40" cy="786.70" r="1.40" fill="#eef0fc" stroke="#4a5ab8" stroke-width="0.5" />
<circle cx="252.00" cy="793.30" r="1.40" fill="#eef0fc" stroke="#4a5ab8" stroke-width="0.5" />
<text x="183.20" y="784.80" font-size="10" text-anchor="middle" textLength="83.10" lengthAdjust="spacingAndGlyphs" transform="rotate(-90 183.20 784.80)" stroke="#222" stroke-width="0.2">MFI*1000  CD301</text>
<text x="225.20" y="846.50" font-size="11" text-anchor="end" textLength="33.00" lengthAdjust="spacingAndGlyphs" transform="rotate(-45 225.20 846.50)" stroke="#222" stroke-width="0.2">Control</text>
<text x="251.50" y="845.50" font-size="11" text-anchor="end" fill="#5670c0" textLength="25.00" lengthAdjust="spacingAndGlyphs" transform="rotate(-45 251.50 845.50)" stroke="#5670c0" stroke-width="0.2">Pyro<tspan font-size="6.5" dy="-4.5">-1</tspan></text>
<text x="300.00" y="659.50" font-size="11" fill="#111" font-weight="bold">f</text>
<text x="329.50" y="660.30" font-size="10.2" textLength="122.50" lengthAdjust="spacingAndGlyphs" stroke="#222" stroke-width="0.2">IL-1β levels at wound site</text>
<line x1="336.80" y1="666.30" x2="448.00" y2="666.30" stroke="#333" stroke-width="1.1" />
<line x1="381.70" y1="718.00" x2="381.70" y2="820.20" stroke="#999" stroke-width="0.8" />
<line x1="380.20" y1="721.52" x2="381.70" y2="721.52" stroke="#999" stroke-width="0.8" />
<text x="380.20" y="725.12" font-size="10" text-anchor="end" stroke="#222" stroke-width="0.25">150</text>
<line x1="380.20" y1="754.41" x2="381.70" y2="754.41" stroke="#999" stroke-width="0.8" />
<text x="380.20" y="758.01" font-size="10" text-anchor="end" stroke="#222" stroke-width="0.25">100</text>
<line x1="380.20" y1="787.31" x2="381.70" y2="787.31" stroke="#999" stroke-width="0.8" />
<text x="380.20" y="790.91" font-size="10" text-anchor="end" stroke="#222" stroke-width="0.25">50</text>
<line x1="380.20" y1="820.20" x2="381.70" y2="820.20" stroke="#999" stroke-width="0.8" />
<text x="380.20" y="823.80" font-size="10" text-anchor="end" stroke="#222" stroke-width="0.25">0</text>
<line x1="381.70" y1="820.20" x2="459.40" y2="820.20" stroke="#999" stroke-width="0.9" />
<path d="M397.5,758.5 L397.5,717.5 L444.6,717.5 L444.6,758.5" fill="none" stroke="#555" stroke-width="0.6" />
<line x1="420.90" y1="717.50" x2="420.90" y2="723.70" stroke="#888" stroke-width="1.2" />
<text x="409.00" y="716.00" font-size="5.6" text-anchor="middle">0.1649</text>
<text x="432.70" y="716.00" font-size="5.6" text-anchor="middle">0.1926</text>
<path d="M424.60,723.70 L424.54,724.31 L424.46,725.12 L424.36,726.09 L424.25,727.19 L424.13,728.37 L424.00,729.60 L423.86,730.89 L423.69,732.29 L423.52,733.77 L423.34,735.32 L423.17,736.90 L423.00,738.50 L422.83,740.13 L422.66,741.83 L422.49,743.56 L422.33,745.31 L422.20,747.06 L422.10,748.80 L422.04,750.54 L422.02,752.31 L422.02,754.09 L422.04,755.84 L422.07,757.55 L422.10,759.20 L422.12,760.77 L422.14,762.28 L422.17,763.74 L422.23,765.19 L422.33,766.63 L422.50,768.10 L422.75,769.58 L423.07,771.07 L423.44,772.56 L423.83,774.04 L424.22,775.52 L424.60,777.00 L424.97,778.49 L425.35,779.99 L425.74,781.49 L426.11,782.97 L426.47,784.41 L426.80,785.80 L427.10,787.15 L427.40,788.47 L427.67,789.75 L427.91,790.99 L428.13,792.17 L428.30,793.30 L428.42,794.41 L428.50,795.51 L428.54,796.57 L428.57,797.52 L428.58,798.31 L428.60,798.90 L413.20,798.90 L413.22,798.31 L413.23,797.52 L413.26,796.57 L413.30,795.51 L413.38,794.41 L413.50,793.30 L413.67,792.17 L413.89,790.99 L414.13,789.75 L414.40,788.47 L414.70,787.15 L415.00,785.80 L415.33,784.41 L415.69,782.97 L416.06,781.49 L416.45,779.99 L416.83,778.49 L417.20,777.00 L417.58,775.52 L417.97,774.04 L418.36,772.56 L418.73,771.07 L419.05,769.58 L419.30,768.10 L419.47,766.63 L419.57,765.19 L419.63,763.74 L419.66,762.28 L419.68,760.77 L419.70,759.20 L419.73,757.55 L419.76,755.84 L419.78,754.09 L419.78,752.31 L419.76,750.54 L419.70,748.80 L419.60,747.06 L419.47,745.31 L419.31,743.56 L419.14,741.83 L418.97,740.13 L418.80,738.50 L418.63,736.90 L418.46,735.32 L418.28,733.77 L418.11,732.29 L417.94,730.89 L417.80,729.60 L417.67,728.37 L417.55,727.19 L417.44,726.09 L417.34,725.12 L417.26,724.31 L417.20,723.70 Z" fill="#ad78c4" stroke="#8a4aa8" stroke-width="0.5" stroke-linejoin="round"/>
<circle cx="420.90" cy="724.10" r="1.20" fill="none" stroke="#6a2a88" stroke-width="0.6" />
<circle cx="418.40" cy="799.20" r="1.20" fill="none" stroke="#6a2a88" stroke-width="0.6" />
<circle cx="423.40" cy="797.70" r="1.20" fill="none" stroke="#6a2a88" stroke-width="0.6" />
<circle cx="392.50" cy="820.60" r="1.45" fill="#fff" stroke="#111" stroke-width="1.0" />
<circle cx="397.20" cy="820.60" r="1.45" fill="#fff" stroke="#111" stroke-width="1.0" />
<circle cx="402.40" cy="820.60" r="1.45" fill="#fff" stroke="#111" stroke-width="1.0" />
<path d="M438.1,815.1 L450.6,815.1 L448.3,817.6 L452,820.3 L435.9,820.3 L439.8,817.6 Z" fill="#4ab6ac" stroke="#1f8f86" stroke-width="0.5" />
<circle cx="444.00" cy="815.30" r="1.25" fill="#1a8a80" stroke="#137068" stroke-width="0.4" />
<circle cx="441.60" cy="820.60" r="1.25" fill="#1a8a80" stroke="#137068" stroke-width="0.4" />
<circle cx="446.20" cy="818.10" r="1.25" fill="#1a8a80" stroke="#137068" stroke-width="0.4" />
<text x="340.60" y="775.50" font-size="10.3" text-anchor="middle" textLength="23.50" lengthAdjust="spacingAndGlyphs" transform="rotate(-90 340.60 775.50)" stroke="#222" stroke-width="0.2">IL-1β</text>
<text x="355.50" y="774.90" font-size="10" text-anchor="middle" textLength="104.40" lengthAdjust="spacingAndGlyphs" transform="rotate(-90 355.50 774.90)" stroke="#222" stroke-width="0.2">pg/ml/unit skin lysate</text>
<text x="394.50" y="833.80" font-size="11" text-anchor="end" textLength="12.50" lengthAdjust="spacingAndGlyphs" transform="rotate(-45 394.50 833.80)" stroke="#222" stroke-width="0.2">D0</text>
<text x="420.50" y="833.80" font-size="11" text-anchor="end" textLength="12.50" lengthAdjust="spacingAndGlyphs" transform="rotate(-45 420.50 833.80)" stroke="#222" stroke-width="0.2">D2</text>
<text x="445.00" y="834.30" font-size="11" text-anchor="end" textLength="12.50" lengthAdjust="spacingAndGlyphs" transform="rotate(-45 445.00 834.30)" stroke="#222" stroke-width="0.2">D8</text>
<text x="415.80" y="855.60" font-size="10.2" text-anchor="middle" textLength="96.80" lengthAdjust="spacingAndGlyphs" stroke="#222" stroke-width="0.2">Days post wounding</text>
<text x="504.20" y="659.20" font-size="11" fill="#111" font-weight="bold">g</text>
<text x="533.90" y="661.70" font-size="10.2" textLength="122.90" lengthAdjust="spacingAndGlyphs" stroke="#222" stroke-width="0.2">Blocking wound site IL-1β</text>
<line x1="541.20" y1="666.30" x2="652.70" y2="666.30" stroke="#333" stroke-width="1.1" />
<rect x="521.90" y="678.20" width="18.10" height="15.30" fill="#8c90d4" stroke="#2c2f6e" stroke-width="1.0" />
<rect x="587.60" y="677.60" width="16.60" height="15.90" fill="#8ccca4" stroke="#224a36" stroke-width="1.0" />
<rect x="521.90" y="699.90" width="18.10" height="17.20" fill="#f3bcd4" stroke="#2c2f6e" stroke-width="1.0" />
<text x="544.00" y="690.20" font-size="10.2" textLength="28.00" lengthAdjust="spacingAndGlyphs" stroke="#222" stroke-width="0.2">Pyro<tspan font-size="6.5" dy="-4">-1</tspan></text>
<text x="611.20" y="690.20" font-size="10.2" textLength="73.80" lengthAdjust="spacingAndGlyphs" stroke="#222" stroke-width="0.2">Isotype Control</text>
<text x="544.00" y="713.80" font-size="10.2" textLength="88.40" lengthAdjust="spacingAndGlyphs" stroke="#222" stroke-width="0.2">IL-1β  blocking Ab</text>
<path d="M555.6,733.1 L591.4,743.8 L627.1,786.4 L627.1,793 L592,751 Z" fill="#a6d6c0" stroke="none" stroke-width="1" />
<path d="M555.6,733.1 L591.4,743.8 L627.1,786.4" fill="none" stroke="#5aa88a" stroke-width="0.6" />
<path d="M555.6,733.1 L591.4,760.1 L627.1,798.3 L627.1,803 L591.4,779 Z" fill="#f5cadc" stroke="none" stroke-width="1" />
<path d="M555.6,733.1 L591.4,760.1 L627.1,798.3" fill="none" stroke="#d890b0" stroke-width="0.5" />
<path d="M555.6,733.1 L591.4,783.3 L627.1,803.4 L627.1,811.5 L591.4,790 L555.6,735 Z" fill="#b6b6e4" stroke="none" stroke-width="1" />
<path d="M555.6,733.1 L591.4,783.3 L627.1,803.4" fill="none" stroke="#6c6cc0" stroke-width="0.6" />
<circle cx="591.40" cy="743.80" r="0.80" fill="#3f8a6c" stroke="none" stroke-width="1" />
<circle cx="627.10" cy="786.40" r="0.80" fill="#3f8a6c" stroke="none" stroke-width="1" />
<circle cx="591.40" cy="760.10" r="0.80" fill="#b86a90" stroke="none" stroke-width="1" />
<circle cx="627.10" cy="798.30" r="0.80" fill="#b86a90" stroke="none" stroke-width="1" />
<circle cx="591.40" cy="783.30" r="0.80" fill="#4a4aa0" stroke="none" stroke-width="1" />
<circle cx="627.10" cy="803.40" r="0.80" fill="#4a4aa0" stroke="none" stroke-width="1" />
<line x1="555.60" y1="731.00" x2="555.60" y2="820.30" stroke="#777" stroke-width="0.8" />
<line x1="554.10" y1="733.15" x2="555.60" y2="733.15" stroke="#777" stroke-width="0.8" />
<text x="553.50" y="737.15" font-size="11" text-anchor="end" stroke="#222" stroke-width="0.25">100</text>
<line x1="554.10" y1="762.20" x2="555.60" y2="762.20" stroke="#777" stroke-width="0.8" />
<text x="553.50" y="766.20" font-size="11" text-anchor="end" stroke="#222" stroke-width="0.25">80</text>
<line x1="554.10" y1="791.25" x2="555.60" y2="791.25" stroke="#777" stroke-width="0.8" />
<text x="553.50" y="795.25" font-size="11" text-anchor="end" stroke="#222" stroke-width="0.25">60</text>
<line x1="554.10" y1="820.30" x2="555.60" y2="820.30" stroke="#777" stroke-width="0.8" />
<text x="553.50" y="824.30" font-size="11" text-anchor="end" stroke="#222" stroke-width="0.25">40</text>
<line x1="555.60" y1="820.30" x2="627.10" y2="820.30" stroke="#777" stroke-width="0.9" />
<text x="555.60" y="831.30" font-size="11" text-anchor="middle" stroke="#222" stroke-width="0.25">0</text>
<text x="573.50" y="831.30" font-size="11" text-anchor="middle" stroke="#222" stroke-width="0.25">1</text>
<text x="591.40" y="831.30" font-size="11" text-anchor="middle" stroke="#222" stroke-width="0.25">2</text>
<text x="609.30" y="831.30" font-size="11" text-anchor="middle" stroke="#222" stroke-width="0.25">3</text>
<text x="627.20" y="831.30" font-size="11" text-anchor="middle" stroke="#222" stroke-width="0.25">4</text>
<path d="M592.9,744.4 L594.1,744.4 L594.1,784.6 L592.9,784.6" fill="none" stroke="#666" stroke-width="0.6" />
<text x="597.60" y="755.60" font-size="8.5" textLength="20.10" lengthAdjust="spacingAndGlyphs" stroke="#222" stroke-width="0.2">0.004</text>
<path d="M597.6,762.4 L599.5,762.4 L599.5,785.2 L597.6,785.2" fill="none" stroke="#a07888" stroke-width="0.6" />
<text x="602.00" y="778.20" font-size="8.5" textLength="24.20" lengthAdjust="spacingAndGlyphs" stroke="#222" stroke-width="0.2">0.0052</text>
<text x="508.10" y="779.30" font-size="10.4" text-anchor="middle" textLength="56.50" lengthAdjust="spacingAndGlyphs" transform="rotate(-90 508.10 779.30)" stroke="#222" stroke-width="0.2">Wound Size</text>
<text x="522.50" y="779.60" font-size="10.2" text-anchor="middle" textLength="95.20" lengthAdjust="spacingAndGlyphs" transform="rotate(-90 522.50 779.60)" stroke="#222" stroke-width="0.2">(% of initial wound)</text>
<text x="598.20" y="855.70" font-size="10.2" text-anchor="middle" textLength="97.60" lengthAdjust="spacingAndGlyphs" stroke="#222" stroke-width="0.2">Days post wounding</text>
</svg></body></html>
